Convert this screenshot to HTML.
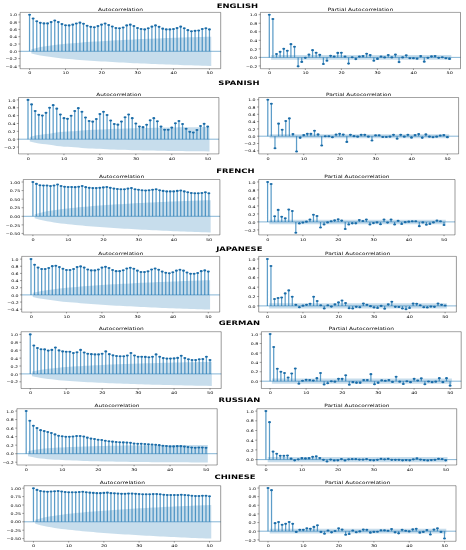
<!DOCTYPE html>
<html lang="en"><head><meta charset="utf-8"><title>ACF / PACF by language</title>
<style>
html,body{margin:0;padding:0;background:#fff}
svg{display:block}
text{font-family:"DejaVu Sans","Liberation Sans",sans-serif;fill:#000}
</style></head>
<body>
<svg width="466" height="550" viewBox="0 0 466 550">
<rect width="466" height="550" fill="#fff"/>
<g>
<g>
<polygon fill="#1f77b4" fill-opacity="0.25" points="31.35,49.19 36.75,47.89 40.34,47.1 43.94,46.5 47.54,45.99 51.14,45.52 54.74,45.05 58.33,44.56 61.93,44.15 65.53,43.82 69.13,43.52 72.73,43.24 76.32,42.95 79.92,42.65 83.52,42.34 87.12,42.06 90.72,41.83 94.31,41.62 97.91,41.42 101.51,41.21 105.11,40.98 108.71,40.74 112.3,40.52 115.9,40.33 119.5,40.17 123.1,40.01 126.7,39.85 130.29,39.65 133.89,39.45 137.49,39.27 141.09,39.12 144.69,38.99 148.28,38.86 151.88,38.72 155.48,38.56 159.08,38.38 162.68,38.23 166.27,38.1 169.87,37.98 173.47,37.86 177.07,37.74 180.67,37.61 184.26,37.46 187.86,37.34 191.46,37.23 195.06,37.13 198.66,37.04 202.25,36.94 205.85,36.82 211.25,36.7 211.25,65.9 205.85,65.78 202.25,65.66 198.66,65.56 195.06,65.47 191.46,65.37 187.86,65.26 184.26,65.14 180.67,64.99 177.07,64.86 173.47,64.74 169.87,64.62 166.27,64.5 162.68,64.37 159.08,64.22 155.48,64.04 151.88,63.88 148.28,63.74 144.69,63.61 141.09,63.48 137.49,63.33 133.89,63.15 130.29,62.95 126.7,62.75 123.1,62.59 119.5,62.43 115.9,62.27 112.3,62.08 108.71,61.86 105.11,61.62 101.51,61.39 97.91,61.18 94.31,60.98 90.72,60.77 87.12,60.54 83.52,60.26 79.92,59.95 76.32,59.65 72.73,59.36 69.13,59.08 65.53,58.78 61.93,58.45 58.33,58.04 54.74,57.55 51.14,57.08 47.54,56.61 43.94,56.1 40.34,55.5 36.75,54.71 31.35,53.41"/>
<path d="M29.55 51.3V14.8M33.15 51.3V18.45M36.75 51.3V21.19M40.34 51.3V22.83M43.94 51.3V23.38M47.54 51.3V23.38M51.14 51.3V22.1M54.74 51.3V20.46M58.33 51.3V22.1M61.93 51.3V24.11M65.53 51.3V25.2M69.13 51.3V25.38M72.73 51.3V24.65M76.32 51.3V23.56M79.92 51.3V22.65M83.52 51.3V23.74M87.12 51.3V25.75M90.72 51.3V26.84M94.31 51.3V27.21M97.91 51.3V26.11M101.51 51.3V24.65M105.11 51.3V23.56M108.71 51.3V25.02M112.3 51.3V26.48M115.9 51.3V27.94M119.5 51.3V28.3M123.1 51.3V27.57M126.7 51.3V25.38M130.29 51.3V24.65M133.89 51.3V25.93M137.49 51.3V27.94M141.09 51.3V29.03M144.69 51.3V29.4M148.28 51.3V28.3M151.88 51.3V26.66M155.48 51.3V25.38M159.08 51.3V26.84M162.68 51.3V28.67M166.27 51.3V29.4M169.87 51.3V29.4M173.47 51.3V29.03M177.07 51.3V28.12M180.67 51.3V26.66M184.26 51.3V28.3M187.86 51.3V30.13M191.46 51.3V31.22M195.06 51.3V30.86M198.66 51.3V30.49M202.25 51.3V29.03M205.85 51.3V28.3M209.45 51.3V29.4" stroke="#1f77b4" stroke-opacity="0.72" stroke-width="1.250" fill="none"/>
<line x1="20.1" x2="220.7" y1="51.3" y2="51.3" stroke="#1f77b4" stroke-width="0.544"/>
<ellipse cx="29.55" cy="14.8" rx="1.50" ry="1.05" fill="#1a6ca8"/>
<ellipse cx="33.15" cy="18.45" rx="1.50" ry="1.05" fill="#1a6ca8"/>
<ellipse cx="36.75" cy="21.19" rx="1.50" ry="1.05" fill="#1a6ca8"/>
<ellipse cx="40.34" cy="22.83" rx="1.50" ry="1.05" fill="#1a6ca8"/>
<ellipse cx="43.94" cy="23.38" rx="1.50" ry="1.05" fill="#1a6ca8"/>
<ellipse cx="47.54" cy="23.38" rx="1.50" ry="1.05" fill="#1a6ca8"/>
<ellipse cx="51.14" cy="22.1" rx="1.50" ry="1.05" fill="#1a6ca8"/>
<ellipse cx="54.74" cy="20.46" rx="1.50" ry="1.05" fill="#1a6ca8"/>
<ellipse cx="58.33" cy="22.1" rx="1.50" ry="1.05" fill="#1a6ca8"/>
<ellipse cx="61.93" cy="24.11" rx="1.50" ry="1.05" fill="#1a6ca8"/>
<ellipse cx="65.53" cy="25.2" rx="1.50" ry="1.05" fill="#1a6ca8"/>
<ellipse cx="69.13" cy="25.38" rx="1.50" ry="1.05" fill="#1a6ca8"/>
<ellipse cx="72.73" cy="24.65" rx="1.50" ry="1.05" fill="#1a6ca8"/>
<ellipse cx="76.32" cy="23.56" rx="1.50" ry="1.05" fill="#1a6ca8"/>
<ellipse cx="79.92" cy="22.65" rx="1.50" ry="1.05" fill="#1a6ca8"/>
<ellipse cx="83.52" cy="23.74" rx="1.50" ry="1.05" fill="#1a6ca8"/>
<ellipse cx="87.12" cy="25.75" rx="1.50" ry="1.05" fill="#1a6ca8"/>
<ellipse cx="90.72" cy="26.84" rx="1.50" ry="1.05" fill="#1a6ca8"/>
<ellipse cx="94.31" cy="27.21" rx="1.50" ry="1.05" fill="#1a6ca8"/>
<ellipse cx="97.91" cy="26.11" rx="1.50" ry="1.05" fill="#1a6ca8"/>
<ellipse cx="101.51" cy="24.65" rx="1.50" ry="1.05" fill="#1a6ca8"/>
<ellipse cx="105.11" cy="23.56" rx="1.50" ry="1.05" fill="#1a6ca8"/>
<ellipse cx="108.71" cy="25.02" rx="1.50" ry="1.05" fill="#1a6ca8"/>
<ellipse cx="112.3" cy="26.48" rx="1.50" ry="1.05" fill="#1a6ca8"/>
<ellipse cx="115.9" cy="27.94" rx="1.50" ry="1.05" fill="#1a6ca8"/>
<ellipse cx="119.5" cy="28.3" rx="1.50" ry="1.05" fill="#1a6ca8"/>
<ellipse cx="123.1" cy="27.57" rx="1.50" ry="1.05" fill="#1a6ca8"/>
<ellipse cx="126.7" cy="25.38" rx="1.50" ry="1.05" fill="#1a6ca8"/>
<ellipse cx="130.29" cy="24.65" rx="1.50" ry="1.05" fill="#1a6ca8"/>
<ellipse cx="133.89" cy="25.93" rx="1.50" ry="1.05" fill="#1a6ca8"/>
<ellipse cx="137.49" cy="27.94" rx="1.50" ry="1.05" fill="#1a6ca8"/>
<ellipse cx="141.09" cy="29.03" rx="1.50" ry="1.05" fill="#1a6ca8"/>
<ellipse cx="144.69" cy="29.4" rx="1.50" ry="1.05" fill="#1a6ca8"/>
<ellipse cx="148.28" cy="28.3" rx="1.50" ry="1.05" fill="#1a6ca8"/>
<ellipse cx="151.88" cy="26.66" rx="1.50" ry="1.05" fill="#1a6ca8"/>
<ellipse cx="155.48" cy="25.38" rx="1.50" ry="1.05" fill="#1a6ca8"/>
<ellipse cx="159.08" cy="26.84" rx="1.50" ry="1.05" fill="#1a6ca8"/>
<ellipse cx="162.68" cy="28.67" rx="1.50" ry="1.05" fill="#1a6ca8"/>
<ellipse cx="166.27" cy="29.4" rx="1.50" ry="1.05" fill="#1a6ca8"/>
<ellipse cx="169.87" cy="29.4" rx="1.50" ry="1.05" fill="#1a6ca8"/>
<ellipse cx="173.47" cy="29.03" rx="1.50" ry="1.05" fill="#1a6ca8"/>
<ellipse cx="177.07" cy="28.12" rx="1.50" ry="1.05" fill="#1a6ca8"/>
<ellipse cx="180.67" cy="26.66" rx="1.50" ry="1.05" fill="#1a6ca8"/>
<ellipse cx="184.26" cy="28.3" rx="1.50" ry="1.05" fill="#1a6ca8"/>
<ellipse cx="187.86" cy="30.13" rx="1.50" ry="1.05" fill="#1a6ca8"/>
<ellipse cx="191.46" cy="31.22" rx="1.50" ry="1.05" fill="#1a6ca8"/>
<ellipse cx="195.06" cy="30.86" rx="1.50" ry="1.05" fill="#1a6ca8"/>
<ellipse cx="198.66" cy="30.49" rx="1.50" ry="1.05" fill="#1a6ca8"/>
<ellipse cx="202.25" cy="29.03" rx="1.50" ry="1.05" fill="#1a6ca8"/>
<ellipse cx="205.85" cy="28.3" rx="1.50" ry="1.05" fill="#1a6ca8"/>
<ellipse cx="209.45" cy="29.4" rx="1.50" ry="1.05" fill="#1a6ca8"/>
<path d="M20.1 12.4V68.7M220.7 12.4V68.7" stroke="#000" stroke-width="0.400" fill="none"/>
<path d="M20.1 12.4H220.7M20.1 68.7H220.7" stroke="#000" stroke-width="0.360" fill="none"/>
<path d="M29.55 68.7v1.27M65.53 68.7v1.27M101.51 68.7v1.27M137.49 68.7v1.27M173.47 68.7v1.27M209.45 68.7v1.27" stroke="#000" stroke-width="0.400" fill="none"/>
<text transform="translate(29.75 74.49) scale(1.3700 1)" font-size="3.625" text-anchor="middle">0</text>
<text transform="translate(65.73 74.49) scale(1.3700 1)" font-size="3.625" text-anchor="middle">10</text>
<text transform="translate(101.71 74.49) scale(1.3700 1)" font-size="3.625" text-anchor="middle">20</text>
<text transform="translate(137.69 74.49) scale(1.3700 1)" font-size="3.625" text-anchor="middle">30</text>
<text transform="translate(173.67 74.49) scale(1.3700 1)" font-size="3.625" text-anchor="middle">40</text>
<text transform="translate(209.65 74.49) scale(1.3700 1)" font-size="3.625" text-anchor="middle">50</text>
<path d="M20.1 65.9h-1.74M20.1 58.6h-1.74M20.1 51.3h-1.74M20.1 44h-1.74M20.1 36.7h-1.74M20.1 29.4h-1.74M20.1 22.1h-1.74M20.1 14.8h-1.74" stroke="#000" stroke-width="0.360" fill="none"/>
<text transform="translate(17.02 67.57) scale(1.3000 1)" font-size="3.625" text-anchor="end">−0.4</text>
<text transform="translate(17.02 60.27) scale(1.3000 1)" font-size="3.625" text-anchor="end">−0.2</text>
<text transform="translate(17.02 52.97) scale(1.3000 1)" font-size="3.625" text-anchor="end">0.0</text>
<text transform="translate(17.02 45.67) scale(1.3000 1)" font-size="3.625" text-anchor="end">0.2</text>
<text transform="translate(17.02 38.37) scale(1.3000 1)" font-size="3.625" text-anchor="end">0.4</text>
<text transform="translate(17.02 31.07) scale(1.3000 1)" font-size="3.625" text-anchor="end">0.6</text>
<text transform="translate(17.02 23.77) scale(1.3000 1)" font-size="3.625" text-anchor="end">0.8</text>
<text transform="translate(17.02 16.47) scale(1.3000 1)" font-size="3.625" text-anchor="end">1.0</text>
<text transform="translate(120.4 10.72) scale(1.3500 1)" font-size="4.350" text-anchor="middle">Autocorrelation</text>
</g>
<g>
<polygon fill="#1f77b4" fill-opacity="0.25" points="271.1,55.01 276.51,55.01 280.11,55.01 283.72,55.01 287.32,55.01 290.92,55.01 294.53,55.01 298.13,55.01 301.74,55.01 305.34,55.01 308.94,55.01 312.55,55.01 316.15,55.01 319.76,55.01 323.36,55.01 326.96,55.01 330.57,55.01 334.17,55.01 337.78,55.01 341.38,55.01 344.98,55.01 348.59,55.01 352.19,55.01 355.8,55.01 359.4,55.01 363,55.01 366.61,55.01 370.21,55.01 373.82,55.01 377.42,55.01 381.02,55.01 384.63,55.01 388.23,55.01 391.84,55.01 395.44,55.01 399.04,55.01 402.65,55.01 406.25,55.01 409.86,55.01 413.46,55.01 417.06,55.01 420.67,55.01 424.27,55.01 427.88,55.01 431.48,55.01 435.08,55.01 438.69,55.01 442.29,55.01 445.9,55.01 451.3,55.01 451.3,59.79 445.9,59.79 442.29,59.79 438.69,59.79 435.08,59.79 431.48,59.79 427.88,59.79 424.27,59.79 420.67,59.79 417.06,59.79 413.46,59.79 409.86,59.79 406.25,59.79 402.65,59.79 399.04,59.79 395.44,59.79 391.84,59.79 388.23,59.79 384.63,59.79 381.02,59.79 377.42,59.79 373.82,59.79 370.21,59.79 366.61,59.79 363,59.79 359.4,59.79 355.8,59.79 352.19,59.79 348.59,59.79 344.98,59.79 341.38,59.79 337.78,59.79 334.17,59.79 330.57,59.79 326.96,59.79 323.36,59.79 319.76,59.79 316.15,59.79 312.55,59.79 308.94,59.79 305.34,59.79 301.74,59.79 298.13,59.79 294.53,59.79 290.92,59.79 287.32,59.79 283.72,59.79 280.11,59.79 276.51,59.79 271.1,59.79"/>
<path d="M269.3 57.4V14.7M272.9 57.4V18.97M276.51 57.4V53.98M280.11 57.4V51.85M283.72 57.4V48.86M287.32 57.4V50.78M290.92 57.4V44.16M294.53 57.4V46.72M298.13 57.4V66.37M301.74 57.4V61.88M305.34 57.4V57.83M308.94 57.4V54.62M312.55 57.4V50.14M316.15 57.4V52.7M319.76 57.4V54.84M323.36 57.4V64.02M326.96 57.4V60.82M330.57 57.4V55.69M334.17 57.4V56.55M337.78 57.4V52.92M341.38 57.4V52.7M344.98 57.4V56.55M348.59 57.4V63.59M352.19 57.4V57.19M355.8 57.4V59.11M359.4 57.4V56.55M363 57.4V56.12M366.61 57.4V53.77M370.21 57.4V55.05M373.82 57.4V60.82M377.42 57.4V58.89M381.02 57.4V56.55M384.63 57.4V57.4M388.23 57.4V55.05M391.84 57.4V57.4M395.44 57.4V54.62M399.04 57.4V62.1M402.65 57.4V57.4M406.25 57.4V55.27M409.86 57.4V58.25M413.46 57.4V58.25M417.06 57.4V58.68M420.67 57.4V56.12M424.27 57.4V61.67M427.88 57.4V57.83M431.48 57.4V56.33M435.08 57.4V56.12M438.69 57.4V57.83M442.29 57.4V57.19M445.9 57.4V58.25M449.5 57.4V58.89" stroke="#1f77b4" stroke-opacity="0.72" stroke-width="1.250" fill="none"/>
<line x1="260.4" x2="460.5" y1="57.4" y2="57.4" stroke="#1f77b4" stroke-width="0.544"/>
<ellipse cx="269.3" cy="14.7" rx="1.50" ry="1.05" fill="#1a6ca8"/>
<ellipse cx="272.9" cy="18.97" rx="1.50" ry="1.05" fill="#1a6ca8"/>
<ellipse cx="276.51" cy="53.98" rx="1.50" ry="1.05" fill="#1a6ca8"/>
<ellipse cx="280.11" cy="51.85" rx="1.50" ry="1.05" fill="#1a6ca8"/>
<ellipse cx="283.72" cy="48.86" rx="1.50" ry="1.05" fill="#1a6ca8"/>
<ellipse cx="287.32" cy="50.78" rx="1.50" ry="1.05" fill="#1a6ca8"/>
<ellipse cx="290.92" cy="44.16" rx="1.50" ry="1.05" fill="#1a6ca8"/>
<ellipse cx="294.53" cy="46.72" rx="1.50" ry="1.05" fill="#1a6ca8"/>
<ellipse cx="298.13" cy="66.37" rx="1.50" ry="1.05" fill="#1a6ca8"/>
<ellipse cx="301.74" cy="61.88" rx="1.50" ry="1.05" fill="#1a6ca8"/>
<ellipse cx="305.34" cy="57.83" rx="1.50" ry="1.05" fill="#1a6ca8"/>
<ellipse cx="308.94" cy="54.62" rx="1.50" ry="1.05" fill="#1a6ca8"/>
<ellipse cx="312.55" cy="50.14" rx="1.50" ry="1.05" fill="#1a6ca8"/>
<ellipse cx="316.15" cy="52.7" rx="1.50" ry="1.05" fill="#1a6ca8"/>
<ellipse cx="319.76" cy="54.84" rx="1.50" ry="1.05" fill="#1a6ca8"/>
<ellipse cx="323.36" cy="64.02" rx="1.50" ry="1.05" fill="#1a6ca8"/>
<ellipse cx="326.96" cy="60.82" rx="1.50" ry="1.05" fill="#1a6ca8"/>
<ellipse cx="330.57" cy="55.69" rx="1.50" ry="1.05" fill="#1a6ca8"/>
<ellipse cx="334.17" cy="56.55" rx="1.50" ry="1.05" fill="#1a6ca8"/>
<ellipse cx="337.78" cy="52.92" rx="1.50" ry="1.05" fill="#1a6ca8"/>
<ellipse cx="341.38" cy="52.7" rx="1.50" ry="1.05" fill="#1a6ca8"/>
<ellipse cx="344.98" cy="56.55" rx="1.50" ry="1.05" fill="#1a6ca8"/>
<ellipse cx="348.59" cy="63.59" rx="1.50" ry="1.05" fill="#1a6ca8"/>
<ellipse cx="352.19" cy="57.19" rx="1.50" ry="1.05" fill="#1a6ca8"/>
<ellipse cx="355.8" cy="59.11" rx="1.50" ry="1.05" fill="#1a6ca8"/>
<ellipse cx="359.4" cy="56.55" rx="1.50" ry="1.05" fill="#1a6ca8"/>
<ellipse cx="363" cy="56.12" rx="1.50" ry="1.05" fill="#1a6ca8"/>
<ellipse cx="366.61" cy="53.77" rx="1.50" ry="1.05" fill="#1a6ca8"/>
<ellipse cx="370.21" cy="55.05" rx="1.50" ry="1.05" fill="#1a6ca8"/>
<ellipse cx="373.82" cy="60.82" rx="1.50" ry="1.05" fill="#1a6ca8"/>
<ellipse cx="377.42" cy="58.89" rx="1.50" ry="1.05" fill="#1a6ca8"/>
<ellipse cx="381.02" cy="56.55" rx="1.50" ry="1.05" fill="#1a6ca8"/>
<ellipse cx="384.63" cy="57.4" rx="1.50" ry="1.05" fill="#1a6ca8"/>
<ellipse cx="388.23" cy="55.05" rx="1.50" ry="1.05" fill="#1a6ca8"/>
<ellipse cx="391.84" cy="57.4" rx="1.50" ry="1.05" fill="#1a6ca8"/>
<ellipse cx="395.44" cy="54.62" rx="1.50" ry="1.05" fill="#1a6ca8"/>
<ellipse cx="399.04" cy="62.1" rx="1.50" ry="1.05" fill="#1a6ca8"/>
<ellipse cx="402.65" cy="57.4" rx="1.50" ry="1.05" fill="#1a6ca8"/>
<ellipse cx="406.25" cy="55.27" rx="1.50" ry="1.05" fill="#1a6ca8"/>
<ellipse cx="409.86" cy="58.25" rx="1.50" ry="1.05" fill="#1a6ca8"/>
<ellipse cx="413.46" cy="58.25" rx="1.50" ry="1.05" fill="#1a6ca8"/>
<ellipse cx="417.06" cy="58.68" rx="1.50" ry="1.05" fill="#1a6ca8"/>
<ellipse cx="420.67" cy="56.12" rx="1.50" ry="1.05" fill="#1a6ca8"/>
<ellipse cx="424.27" cy="61.67" rx="1.50" ry="1.05" fill="#1a6ca8"/>
<ellipse cx="427.88" cy="57.83" rx="1.50" ry="1.05" fill="#1a6ca8"/>
<ellipse cx="431.48" cy="56.33" rx="1.50" ry="1.05" fill="#1a6ca8"/>
<ellipse cx="435.08" cy="56.12" rx="1.50" ry="1.05" fill="#1a6ca8"/>
<ellipse cx="438.69" cy="57.83" rx="1.50" ry="1.05" fill="#1a6ca8"/>
<ellipse cx="442.29" cy="57.19" rx="1.50" ry="1.05" fill="#1a6ca8"/>
<ellipse cx="445.9" cy="58.25" rx="1.50" ry="1.05" fill="#1a6ca8"/>
<ellipse cx="449.5" cy="58.89" rx="1.50" ry="1.05" fill="#1a6ca8"/>
<path d="M260.4 12.4V68.7M460.5 12.4V68.7" stroke="#000" stroke-width="0.400" fill="none"/>
<path d="M260.4 12.4H460.5M260.4 68.7H460.5" stroke="#000" stroke-width="0.360" fill="none"/>
<path d="M269.3 68.7v1.27M305.34 68.7v1.27M341.38 68.7v1.27M377.42 68.7v1.27M413.46 68.7v1.27M449.5 68.7v1.27" stroke="#000" stroke-width="0.400" fill="none"/>
<text transform="translate(269.5 74.49) scale(1.3700 1)" font-size="3.625" text-anchor="middle">0</text>
<text transform="translate(305.54 74.49) scale(1.3700 1)" font-size="3.625" text-anchor="middle">10</text>
<text transform="translate(341.58 74.49) scale(1.3700 1)" font-size="3.625" text-anchor="middle">20</text>
<text transform="translate(377.62 74.49) scale(1.3700 1)" font-size="3.625" text-anchor="middle">30</text>
<text transform="translate(413.66 74.49) scale(1.3700 1)" font-size="3.625" text-anchor="middle">40</text>
<text transform="translate(449.7 74.49) scale(1.3700 1)" font-size="3.625" text-anchor="middle">50</text>
<path d="M260.4 65.94h-1.74M260.4 57.4h-1.74M260.4 48.86h-1.74M260.4 40.32h-1.74M260.4 31.78h-1.74M260.4 23.24h-1.74M260.4 14.7h-1.74" stroke="#000" stroke-width="0.360" fill="none"/>
<text transform="translate(257.32 67.61) scale(1.3000 1)" font-size="3.625" text-anchor="end">−0.2</text>
<text transform="translate(257.32 59.07) scale(1.3000 1)" font-size="3.625" text-anchor="end">0.0</text>
<text transform="translate(257.32 50.53) scale(1.3000 1)" font-size="3.625" text-anchor="end">0.2</text>
<text transform="translate(257.32 41.99) scale(1.3000 1)" font-size="3.625" text-anchor="end">0.4</text>
<text transform="translate(257.32 33.45) scale(1.3000 1)" font-size="3.625" text-anchor="end">0.6</text>
<text transform="translate(257.32 24.91) scale(1.3000 1)" font-size="3.625" text-anchor="end">0.8</text>
<text transform="translate(257.32 16.37) scale(1.3000 1)" font-size="3.625" text-anchor="end">1.0</text>
<text transform="translate(360.45 10.72) scale(1.3500 1)" font-size="4.350" text-anchor="middle">Partial Autocorrelation</text>
</g>
<text transform="translate(237.4 8.2) scale(1.3716 1)" font-size="6.150" text-anchor="middle" font-weight="bold">ENGLISH</text>
<g>
<polygon fill="#1f77b4" fill-opacity="0.25" points="29.8,136.93 35.19,135.56 38.78,134.89 42.38,134.46 45.97,134.08 49.56,133.65 53.16,133.08 56.75,132.48 60.35,132.03 63.94,131.75 67.53,131.55 71.13,131.37 74.72,131.14 78.32,130.82 81.91,130.45 85.5,130.16 89.1,129.99 92.69,129.87 96.29,129.76 99.88,129.62 103.47,129.4 107.07,129.14 110.66,128.95 114.26,128.84 117.85,128.77 121.44,128.7 125.04,128.6 128.63,128.45 132.23,128.26 135.82,128.13 139.41,128.05 143.01,128.01 146.6,127.96 150.2,127.9 153.79,127.8 157.38,127.67 160.98,127.57 164.57,127.53 168.17,127.5 171.76,127.48 175.35,127.44 178.95,127.37 182.54,127.28 186.14,127.21 189.73,127.18 193.32,127.17 196.92,127.15 200.51,127.13 204.11,127.08 209.5,127.02 209.5,151.38 204.11,151.32 200.51,151.27 196.92,151.25 193.32,151.23 189.73,151.22 186.14,151.19 182.54,151.12 178.95,151.03 175.35,150.96 171.76,150.92 168.17,150.9 164.57,150.87 160.98,150.83 157.38,150.73 153.79,150.6 150.2,150.5 146.6,150.44 143.01,150.39 139.41,150.35 135.82,150.27 132.23,150.14 128.63,149.95 125.04,149.8 121.44,149.7 117.85,149.63 114.26,149.56 110.66,149.45 107.07,149.26 103.47,149 99.88,148.78 96.29,148.64 92.69,148.53 89.1,148.41 85.5,148.24 81.91,147.95 78.32,147.58 74.72,147.26 71.13,147.03 67.53,146.85 63.94,146.65 60.35,146.37 56.75,145.92 53.16,145.32 49.56,144.75 45.97,144.32 42.38,143.94 38.78,143.51 35.19,142.84 29.8,141.47"/>
<path d="M28 139.2V99.9M31.59 139.2V104.42M35.19 139.2V111.02M38.78 139.2V114.83M42.38 139.2V115.62M45.97 139.2V112.87M49.56 139.2V107.76M53.16 139.2V105.13M56.75 139.2V108.66M60.35 139.2V114.44M63.94 139.2V118.14M67.53 139.2V118.84M71.13 139.2V115.78M74.72 139.2V111.02M78.32 139.2V108.15M81.91 139.2V111.69M85.5 139.2V117.43M89.1 139.2V120.96M92.69 139.2V121.67M96.29 139.2V119.08M99.88 139.2V114.09M103.47 139.2V111.69M107.07 139.2V115.07M110.66 139.2V120.49M114.26 139.2V124.03M117.85 139.2V124.66M121.44 139.2V121.59M125.04 139.2V117.19M128.63 139.2V114.56M132.23 139.2V118.14M135.82 139.2V123.56M139.41 139.2V126.62M143.01 139.2V127.13M146.6 139.2V124.78M150.2 139.2V120.34M153.79 139.2V118.14M157.38 139.2V121.2M160.98 139.2V126.62M164.57 139.2V129.77M168.17 139.2V129.77M171.76 139.2V127.61M175.35 139.2V123.32M178.95 139.2V120.96M182.54 139.2V124.03M186.14 139.2V128.79M189.73 139.2V131.85M193.32 139.2V132.56M196.92 139.2V129.96M200.51 139.2V125.96M204.11 139.2V123.87M207.7 139.2V126.62" stroke="#1f77b4" stroke-opacity="0.72" stroke-width="1.250" fill="none"/>
<line x1="18.5" x2="218.9" y1="139.2" y2="139.2" stroke="#1f77b4" stroke-width="0.544"/>
<ellipse cx="28" cy="99.9" rx="1.50" ry="1.05" fill="#1a6ca8"/>
<ellipse cx="31.59" cy="104.42" rx="1.50" ry="1.05" fill="#1a6ca8"/>
<ellipse cx="35.19" cy="111.02" rx="1.50" ry="1.05" fill="#1a6ca8"/>
<ellipse cx="38.78" cy="114.83" rx="1.50" ry="1.05" fill="#1a6ca8"/>
<ellipse cx="42.38" cy="115.62" rx="1.50" ry="1.05" fill="#1a6ca8"/>
<ellipse cx="45.97" cy="112.87" rx="1.50" ry="1.05" fill="#1a6ca8"/>
<ellipse cx="49.56" cy="107.76" rx="1.50" ry="1.05" fill="#1a6ca8"/>
<ellipse cx="53.16" cy="105.13" rx="1.50" ry="1.05" fill="#1a6ca8"/>
<ellipse cx="56.75" cy="108.66" rx="1.50" ry="1.05" fill="#1a6ca8"/>
<ellipse cx="60.35" cy="114.44" rx="1.50" ry="1.05" fill="#1a6ca8"/>
<ellipse cx="63.94" cy="118.14" rx="1.50" ry="1.05" fill="#1a6ca8"/>
<ellipse cx="67.53" cy="118.84" rx="1.50" ry="1.05" fill="#1a6ca8"/>
<ellipse cx="71.13" cy="115.78" rx="1.50" ry="1.05" fill="#1a6ca8"/>
<ellipse cx="74.72" cy="111.02" rx="1.50" ry="1.05" fill="#1a6ca8"/>
<ellipse cx="78.32" cy="108.15" rx="1.50" ry="1.05" fill="#1a6ca8"/>
<ellipse cx="81.91" cy="111.69" rx="1.50" ry="1.05" fill="#1a6ca8"/>
<ellipse cx="85.5" cy="117.43" rx="1.50" ry="1.05" fill="#1a6ca8"/>
<ellipse cx="89.1" cy="120.96" rx="1.50" ry="1.05" fill="#1a6ca8"/>
<ellipse cx="92.69" cy="121.67" rx="1.50" ry="1.05" fill="#1a6ca8"/>
<ellipse cx="96.29" cy="119.08" rx="1.50" ry="1.05" fill="#1a6ca8"/>
<ellipse cx="99.88" cy="114.09" rx="1.50" ry="1.05" fill="#1a6ca8"/>
<ellipse cx="103.47" cy="111.69" rx="1.50" ry="1.05" fill="#1a6ca8"/>
<ellipse cx="107.07" cy="115.07" rx="1.50" ry="1.05" fill="#1a6ca8"/>
<ellipse cx="110.66" cy="120.49" rx="1.50" ry="1.05" fill="#1a6ca8"/>
<ellipse cx="114.26" cy="124.03" rx="1.50" ry="1.05" fill="#1a6ca8"/>
<ellipse cx="117.85" cy="124.66" rx="1.50" ry="1.05" fill="#1a6ca8"/>
<ellipse cx="121.44" cy="121.59" rx="1.50" ry="1.05" fill="#1a6ca8"/>
<ellipse cx="125.04" cy="117.19" rx="1.50" ry="1.05" fill="#1a6ca8"/>
<ellipse cx="128.63" cy="114.56" rx="1.50" ry="1.05" fill="#1a6ca8"/>
<ellipse cx="132.23" cy="118.14" rx="1.50" ry="1.05" fill="#1a6ca8"/>
<ellipse cx="135.82" cy="123.56" rx="1.50" ry="1.05" fill="#1a6ca8"/>
<ellipse cx="139.41" cy="126.62" rx="1.50" ry="1.05" fill="#1a6ca8"/>
<ellipse cx="143.01" cy="127.13" rx="1.50" ry="1.05" fill="#1a6ca8"/>
<ellipse cx="146.6" cy="124.78" rx="1.50" ry="1.05" fill="#1a6ca8"/>
<ellipse cx="150.2" cy="120.34" rx="1.50" ry="1.05" fill="#1a6ca8"/>
<ellipse cx="153.79" cy="118.14" rx="1.50" ry="1.05" fill="#1a6ca8"/>
<ellipse cx="157.38" cy="121.2" rx="1.50" ry="1.05" fill="#1a6ca8"/>
<ellipse cx="160.98" cy="126.62" rx="1.50" ry="1.05" fill="#1a6ca8"/>
<ellipse cx="164.57" cy="129.77" rx="1.50" ry="1.05" fill="#1a6ca8"/>
<ellipse cx="168.17" cy="129.77" rx="1.50" ry="1.05" fill="#1a6ca8"/>
<ellipse cx="171.76" cy="127.61" rx="1.50" ry="1.05" fill="#1a6ca8"/>
<ellipse cx="175.35" cy="123.32" rx="1.50" ry="1.05" fill="#1a6ca8"/>
<ellipse cx="178.95" cy="120.96" rx="1.50" ry="1.05" fill="#1a6ca8"/>
<ellipse cx="182.54" cy="124.03" rx="1.50" ry="1.05" fill="#1a6ca8"/>
<ellipse cx="186.14" cy="128.79" rx="1.50" ry="1.05" fill="#1a6ca8"/>
<ellipse cx="189.73" cy="131.85" rx="1.50" ry="1.05" fill="#1a6ca8"/>
<ellipse cx="193.32" cy="132.56" rx="1.50" ry="1.05" fill="#1a6ca8"/>
<ellipse cx="196.92" cy="129.96" rx="1.50" ry="1.05" fill="#1a6ca8"/>
<ellipse cx="200.51" cy="125.96" rx="1.50" ry="1.05" fill="#1a6ca8"/>
<ellipse cx="204.11" cy="123.87" rx="1.50" ry="1.05" fill="#1a6ca8"/>
<ellipse cx="207.7" cy="126.62" rx="1.50" ry="1.05" fill="#1a6ca8"/>
<path d="M18.5 97.5V153.9M218.9 97.5V153.9" stroke="#000" stroke-width="0.400" fill="none"/>
<path d="M18.5 97.5H218.9M18.5 153.9H218.9" stroke="#000" stroke-width="0.360" fill="none"/>
<path d="M28 153.9v1.27M63.94 153.9v1.27M99.88 153.9v1.27M135.82 153.9v1.27M171.76 153.9v1.27M207.7 153.9v1.27" stroke="#000" stroke-width="0.400" fill="none"/>
<text transform="translate(28.2 159.69) scale(1.3700 1)" font-size="3.625" text-anchor="middle">0</text>
<text transform="translate(64.14 159.69) scale(1.3700 1)" font-size="3.625" text-anchor="middle">10</text>
<text transform="translate(100.08 159.69) scale(1.3700 1)" font-size="3.625" text-anchor="middle">20</text>
<text transform="translate(136.02 159.69) scale(1.3700 1)" font-size="3.625" text-anchor="middle">30</text>
<text transform="translate(171.96 159.69) scale(1.3700 1)" font-size="3.625" text-anchor="middle">40</text>
<text transform="translate(207.9 159.69) scale(1.3700 1)" font-size="3.625" text-anchor="middle">50</text>
<path d="M18.5 147.06h-1.74M18.5 139.2h-1.74M18.5 131.34h-1.74M18.5 123.48h-1.74M18.5 115.62h-1.74M18.5 107.76h-1.74M18.5 99.9h-1.74" stroke="#000" stroke-width="0.360" fill="none"/>
<text transform="translate(15.42 148.73) scale(1.3000 1)" font-size="3.625" text-anchor="end">−0.2</text>
<text transform="translate(15.42 140.87) scale(1.3000 1)" font-size="3.625" text-anchor="end">0.0</text>
<text transform="translate(15.42 133.01) scale(1.3000 1)" font-size="3.625" text-anchor="end">0.2</text>
<text transform="translate(15.42 125.15) scale(1.3000 1)" font-size="3.625" text-anchor="end">0.4</text>
<text transform="translate(15.42 117.29) scale(1.3000 1)" font-size="3.625" text-anchor="end">0.6</text>
<text transform="translate(15.42 109.43) scale(1.3000 1)" font-size="3.625" text-anchor="end">0.8</text>
<text transform="translate(15.42 101.57) scale(1.3000 1)" font-size="3.625" text-anchor="end">1.0</text>
<text transform="translate(118.7 95.83) scale(1.3500 1)" font-size="4.350" text-anchor="middle">Autocorrelation</text>
</g>
<g>
<polygon fill="#1f77b4" fill-opacity="0.25" points="269.6,134.16 274.98,134.16 278.58,134.16 282.17,134.16 285.76,134.16 289.35,134.16 292.94,134.16 296.54,134.16 300.13,134.16 303.72,134.16 307.31,134.16 310.9,134.16 314.5,134.16 318.09,134.16 321.68,134.16 325.27,134.16 328.86,134.16 332.46,134.16 336.05,134.16 339.64,134.16 343.23,134.16 346.82,134.16 350.42,134.16 354.01,134.16 357.6,134.16 361.19,134.16 364.78,134.16 368.38,134.16 371.97,134.16 375.56,134.16 379.15,134.16 382.74,134.16 386.34,134.16 389.93,134.16 393.52,134.16 397.11,134.16 400.7,134.16 404.3,134.16 407.89,134.16 411.48,134.16 415.07,134.16 418.66,134.16 422.26,134.16 425.85,134.16 429.44,134.16 433.03,134.16 436.62,134.16 440.22,134.16 443.81,134.16 449.2,134.16 449.2,138.24 443.81,138.24 440.22,138.24 436.62,138.24 433.03,138.24 429.44,138.24 425.85,138.24 422.26,138.24 418.66,138.24 415.07,138.24 411.48,138.24 407.89,138.24 404.3,138.24 400.7,138.24 397.11,138.24 393.52,138.24 389.93,138.24 386.34,138.24 382.74,138.24 379.15,138.24 375.56,138.24 371.97,138.24 368.38,138.24 364.78,138.24 361.19,138.24 357.6,138.24 354.01,138.24 350.42,138.24 346.82,138.24 343.23,138.24 339.64,138.24 336.05,138.24 332.46,138.24 328.86,138.24 325.27,138.24 321.68,138.24 318.09,138.24 314.5,138.24 310.9,138.24 307.31,138.24 303.72,138.24 300.13,138.24 296.54,138.24 292.94,138.24 289.35,138.24 285.76,138.24 282.17,138.24 278.58,138.24 274.98,138.24 269.6,138.24"/>
<path d="M267.8 136.2V99.7M271.39 136.2V103.72M274.98 136.2V148.24M278.58 136.2V123.64M282.17 136.2V129.81M285.76 136.2V121.02M289.35 136.2V118.42M292.94 136.2V134.08M296.54 136.2V151.53M300.13 136.2V137.84M303.72 136.2V135.1M307.31 136.2V133.83M310.9 136.2V133.83M314.5 136.2V130.72M318.09 136.2V134.38M321.68 136.2V145.43M325.27 136.2V136.2M328.86 136.2V136.2M332.46 136.2V137.29M336.05 136.2V134.56M339.64 136.2V133.83M343.23 136.2V134.56M346.82 136.2V141.89M350.42 136.2V134.74M354.01 136.2V136.13M357.6 136.2V136.67M361.19 136.2V134.74M364.78 136.2V134.74M368.38 136.2V136.67M371.97 136.2V140.47M375.56 136.2V135.25M379.15 136.2V135.25M382.74 136.2V136.93M386.34 136.2V136.93M389.93 136.2V136.67M393.52 136.2V134.74M397.11 136.2V138.75M400.7 136.2V134.74M404.3 136.2V136.67M407.89 136.2V134.74M411.48 136.2V137.66M415.07 136.2V135.1M418.66 136.2V134.08M422.26 136.2V137.84M425.85 136.2V134.38M429.44 136.2V136.67M433.03 136.2V137.29M436.62 136.2V136.67M440.22 136.2V135.47M443.81 136.2V135.1M447.4 136.2V137.15" stroke="#1f77b4" stroke-opacity="0.72" stroke-width="1.250" fill="none"/>
<line x1="258.7" x2="458.6" y1="136.2" y2="136.2" stroke="#1f77b4" stroke-width="0.544"/>
<ellipse cx="267.8" cy="99.7" rx="1.50" ry="1.05" fill="#1a6ca8"/>
<ellipse cx="271.39" cy="103.72" rx="1.50" ry="1.05" fill="#1a6ca8"/>
<ellipse cx="274.98" cy="148.24" rx="1.50" ry="1.05" fill="#1a6ca8"/>
<ellipse cx="278.58" cy="123.64" rx="1.50" ry="1.05" fill="#1a6ca8"/>
<ellipse cx="282.17" cy="129.81" rx="1.50" ry="1.05" fill="#1a6ca8"/>
<ellipse cx="285.76" cy="121.02" rx="1.50" ry="1.05" fill="#1a6ca8"/>
<ellipse cx="289.35" cy="118.42" rx="1.50" ry="1.05" fill="#1a6ca8"/>
<ellipse cx="292.94" cy="134.08" rx="1.50" ry="1.05" fill="#1a6ca8"/>
<ellipse cx="296.54" cy="151.53" rx="1.50" ry="1.05" fill="#1a6ca8"/>
<ellipse cx="300.13" cy="137.84" rx="1.50" ry="1.05" fill="#1a6ca8"/>
<ellipse cx="303.72" cy="135.1" rx="1.50" ry="1.05" fill="#1a6ca8"/>
<ellipse cx="307.31" cy="133.83" rx="1.50" ry="1.05" fill="#1a6ca8"/>
<ellipse cx="310.9" cy="133.83" rx="1.50" ry="1.05" fill="#1a6ca8"/>
<ellipse cx="314.5" cy="130.72" rx="1.50" ry="1.05" fill="#1a6ca8"/>
<ellipse cx="318.09" cy="134.38" rx="1.50" ry="1.05" fill="#1a6ca8"/>
<ellipse cx="321.68" cy="145.43" rx="1.50" ry="1.05" fill="#1a6ca8"/>
<ellipse cx="325.27" cy="136.2" rx="1.50" ry="1.05" fill="#1a6ca8"/>
<ellipse cx="328.86" cy="136.2" rx="1.50" ry="1.05" fill="#1a6ca8"/>
<ellipse cx="332.46" cy="137.29" rx="1.50" ry="1.05" fill="#1a6ca8"/>
<ellipse cx="336.05" cy="134.56" rx="1.50" ry="1.05" fill="#1a6ca8"/>
<ellipse cx="339.64" cy="133.83" rx="1.50" ry="1.05" fill="#1a6ca8"/>
<ellipse cx="343.23" cy="134.56" rx="1.50" ry="1.05" fill="#1a6ca8"/>
<ellipse cx="346.82" cy="141.89" rx="1.50" ry="1.05" fill="#1a6ca8"/>
<ellipse cx="350.42" cy="134.74" rx="1.50" ry="1.05" fill="#1a6ca8"/>
<ellipse cx="354.01" cy="136.13" rx="1.50" ry="1.05" fill="#1a6ca8"/>
<ellipse cx="357.6" cy="136.67" rx="1.50" ry="1.05" fill="#1a6ca8"/>
<ellipse cx="361.19" cy="134.74" rx="1.50" ry="1.05" fill="#1a6ca8"/>
<ellipse cx="364.78" cy="134.74" rx="1.50" ry="1.05" fill="#1a6ca8"/>
<ellipse cx="368.38" cy="136.67" rx="1.50" ry="1.05" fill="#1a6ca8"/>
<ellipse cx="371.97" cy="140.47" rx="1.50" ry="1.05" fill="#1a6ca8"/>
<ellipse cx="375.56" cy="135.25" rx="1.50" ry="1.05" fill="#1a6ca8"/>
<ellipse cx="379.15" cy="135.25" rx="1.50" ry="1.05" fill="#1a6ca8"/>
<ellipse cx="382.74" cy="136.93" rx="1.50" ry="1.05" fill="#1a6ca8"/>
<ellipse cx="386.34" cy="136.93" rx="1.50" ry="1.05" fill="#1a6ca8"/>
<ellipse cx="389.93" cy="136.67" rx="1.50" ry="1.05" fill="#1a6ca8"/>
<ellipse cx="393.52" cy="134.74" rx="1.50" ry="1.05" fill="#1a6ca8"/>
<ellipse cx="397.11" cy="138.75" rx="1.50" ry="1.05" fill="#1a6ca8"/>
<ellipse cx="400.7" cy="134.74" rx="1.50" ry="1.05" fill="#1a6ca8"/>
<ellipse cx="404.3" cy="136.67" rx="1.50" ry="1.05" fill="#1a6ca8"/>
<ellipse cx="407.89" cy="134.74" rx="1.50" ry="1.05" fill="#1a6ca8"/>
<ellipse cx="411.48" cy="137.66" rx="1.50" ry="1.05" fill="#1a6ca8"/>
<ellipse cx="415.07" cy="135.1" rx="1.50" ry="1.05" fill="#1a6ca8"/>
<ellipse cx="418.66" cy="134.08" rx="1.50" ry="1.05" fill="#1a6ca8"/>
<ellipse cx="422.26" cy="137.84" rx="1.50" ry="1.05" fill="#1a6ca8"/>
<ellipse cx="425.85" cy="134.38" rx="1.50" ry="1.05" fill="#1a6ca8"/>
<ellipse cx="429.44" cy="136.67" rx="1.50" ry="1.05" fill="#1a6ca8"/>
<ellipse cx="433.03" cy="137.29" rx="1.50" ry="1.05" fill="#1a6ca8"/>
<ellipse cx="436.62" cy="136.67" rx="1.50" ry="1.05" fill="#1a6ca8"/>
<ellipse cx="440.22" cy="135.47" rx="1.50" ry="1.05" fill="#1a6ca8"/>
<ellipse cx="443.81" cy="135.1" rx="1.50" ry="1.05" fill="#1a6ca8"/>
<ellipse cx="447.4" cy="137.15" rx="1.50" ry="1.05" fill="#1a6ca8"/>
<path d="M258.7 97.5V153.9M458.6 97.5V153.9" stroke="#000" stroke-width="0.400" fill="none"/>
<path d="M258.7 97.5H458.6M258.7 153.9H458.6" stroke="#000" stroke-width="0.360" fill="none"/>
<path d="M267.8 153.9v1.27M303.72 153.9v1.27M339.64 153.9v1.27M375.56 153.9v1.27M411.48 153.9v1.27M447.4 153.9v1.27" stroke="#000" stroke-width="0.400" fill="none"/>
<text transform="translate(268 159.69) scale(1.3700 1)" font-size="3.625" text-anchor="middle">0</text>
<text transform="translate(303.92 159.69) scale(1.3700 1)" font-size="3.625" text-anchor="middle">10</text>
<text transform="translate(339.84 159.69) scale(1.3700 1)" font-size="3.625" text-anchor="middle">20</text>
<text transform="translate(375.76 159.69) scale(1.3700 1)" font-size="3.625" text-anchor="middle">30</text>
<text transform="translate(411.68 159.69) scale(1.3700 1)" font-size="3.625" text-anchor="middle">40</text>
<text transform="translate(447.6 159.69) scale(1.3700 1)" font-size="3.625" text-anchor="middle">50</text>
<path d="M258.7 150.8h-1.74M258.7 143.5h-1.74M258.7 136.2h-1.74M258.7 128.9h-1.74M258.7 121.6h-1.74M258.7 114.3h-1.74M258.7 107h-1.74M258.7 99.7h-1.74" stroke="#000" stroke-width="0.360" fill="none"/>
<text transform="translate(255.62 152.47) scale(1.3000 1)" font-size="3.625" text-anchor="end">−0.4</text>
<text transform="translate(255.62 145.17) scale(1.3000 1)" font-size="3.625" text-anchor="end">−0.2</text>
<text transform="translate(255.62 137.87) scale(1.3000 1)" font-size="3.625" text-anchor="end">0.0</text>
<text transform="translate(255.62 130.57) scale(1.3000 1)" font-size="3.625" text-anchor="end">0.2</text>
<text transform="translate(255.62 123.27) scale(1.3000 1)" font-size="3.625" text-anchor="end">0.4</text>
<text transform="translate(255.62 115.97) scale(1.3000 1)" font-size="3.625" text-anchor="end">0.6</text>
<text transform="translate(255.62 108.67) scale(1.3000 1)" font-size="3.625" text-anchor="end">0.8</text>
<text transform="translate(255.62 101.37) scale(1.3000 1)" font-size="3.625" text-anchor="end">1.0</text>
<text transform="translate(358.65 95.83) scale(1.3500 1)" font-size="4.350" text-anchor="middle">Partial Autocorrelation</text>
</g>
<text transform="translate(239 85.4) scale(1.3716 1)" font-size="6.150" text-anchor="middle" font-weight="bold">SPANISH</text>
<g>
<polygon fill="#1f77b4" fill-opacity="0.25" points="34.66,214.29 39.94,212.95 43.46,212.08 46.98,211.37 50.5,210.75 54.02,210.21 57.54,209.7 61.06,209.2 64.58,208.77 68.1,208.38 71.62,208.01 75.14,207.67 78.66,207.33 82.18,207.01 85.7,206.67 89.22,206.38 92.74,206.1 96.26,205.84 99.78,205.58 103.3,205.32 106.82,205.07 110.34,204.81 113.86,204.57 117.38,204.35 120.9,204.13 124.42,203.93 127.94,203.73 131.46,203.52 134.98,203.31 138.5,203.12 142.02,202.94 145.54,202.76 149.06,202.6 152.58,202.43 156.1,202.25 159.62,202.08 163.14,201.91 166.66,201.76 170.18,201.62 173.7,201.47 177.22,201.33 180.74,201.18 184.26,201.03 187.78,200.89 191.3,200.77 194.82,200.65 198.34,200.53 201.86,200.42 205.38,200.3 210.66,200.18 210.66,232.42 205.38,232.3 201.86,232.18 198.34,232.07 194.82,231.95 191.3,231.83 187.78,231.71 184.26,231.57 180.74,231.42 177.22,231.27 173.7,231.13 170.18,230.98 166.66,230.84 163.14,230.69 159.62,230.52 156.1,230.35 152.58,230.17 149.06,230 145.54,229.84 142.02,229.66 138.5,229.48 134.98,229.29 131.46,229.08 127.94,228.87 124.42,228.67 120.9,228.47 117.38,228.25 113.86,228.03 110.34,227.79 106.82,227.53 103.3,227.28 99.78,227.02 96.26,226.76 92.74,226.5 89.22,226.22 85.7,225.93 82.18,225.59 78.66,225.27 75.14,224.93 71.62,224.59 68.1,224.22 64.58,223.83 61.06,223.4 57.54,222.9 54.02,222.39 50.5,221.85 46.98,221.23 43.46,220.52 39.94,219.65 34.66,218.31"/>
<path d="M32.9 216.3V182M36.42 216.3V183.89M39.94 216.3V185.29M43.46 216.3V185.53M46.98 216.3V185.53M50.5 216.3V185.98M54.02 216.3V185.53M57.54 216.3V184.57M61.06 216.3V185.98M64.58 216.3V186.7M68.1 216.3V186.94M71.62 216.3V186.94M75.14 216.3V187.15M78.66 216.3V186.7M82.18 216.3V185.98M85.7 216.3V187.15M89.22 216.3V187.83M92.74 216.3V188.11M96.26 216.3V188.11M99.78 216.3V187.83M103.3 216.3V187.42M106.82 216.3V186.94M110.34 216.3V187.83M113.86 216.3V188.59M117.38 216.3V189.03M120.9 216.3V189.27M124.42 216.3V189.2M127.94 216.3V188.59M131.46 216.3V188.11M134.98 216.3V189.27M138.5 216.3V189.75M142.02 216.3V190.23M145.54 216.3V190.47M149.06 216.3V190.23M152.58 216.3V189.75M156.1 216.3V189.27M159.62 216.3V190.23M163.14 216.3V190.92M166.66 216.3V191.4M170.18 216.3V191.4M173.7 216.3V191.4M177.22 216.3V190.92M180.74 216.3V190.47M184.26 216.3V191.4M187.78 216.3V192.29M191.3 216.3V193.04M194.82 216.3V193.28M198.34 216.3V193.28M201.86 216.3V193.04M205.38 216.3V192.29M208.9 216.3V193.28" stroke="#1f77b4" stroke-opacity="0.72" stroke-width="1.250" fill="none"/>
<line x1="23.3" x2="219.9" y1="216.3" y2="216.3" stroke="#1f77b4" stroke-width="0.544"/>
<ellipse cx="32.9" cy="182" rx="1.50" ry="1.05" fill="#1a6ca8"/>
<ellipse cx="36.42" cy="183.89" rx="1.50" ry="1.05" fill="#1a6ca8"/>
<ellipse cx="39.94" cy="185.29" rx="1.50" ry="1.05" fill="#1a6ca8"/>
<ellipse cx="43.46" cy="185.53" rx="1.50" ry="1.05" fill="#1a6ca8"/>
<ellipse cx="46.98" cy="185.53" rx="1.50" ry="1.05" fill="#1a6ca8"/>
<ellipse cx="50.5" cy="185.98" rx="1.50" ry="1.05" fill="#1a6ca8"/>
<ellipse cx="54.02" cy="185.53" rx="1.50" ry="1.05" fill="#1a6ca8"/>
<ellipse cx="57.54" cy="184.57" rx="1.50" ry="1.05" fill="#1a6ca8"/>
<ellipse cx="61.06" cy="185.98" rx="1.50" ry="1.05" fill="#1a6ca8"/>
<ellipse cx="64.58" cy="186.7" rx="1.50" ry="1.05" fill="#1a6ca8"/>
<ellipse cx="68.1" cy="186.94" rx="1.50" ry="1.05" fill="#1a6ca8"/>
<ellipse cx="71.62" cy="186.94" rx="1.50" ry="1.05" fill="#1a6ca8"/>
<ellipse cx="75.14" cy="187.15" rx="1.50" ry="1.05" fill="#1a6ca8"/>
<ellipse cx="78.66" cy="186.7" rx="1.50" ry="1.05" fill="#1a6ca8"/>
<ellipse cx="82.18" cy="185.98" rx="1.50" ry="1.05" fill="#1a6ca8"/>
<ellipse cx="85.7" cy="187.15" rx="1.50" ry="1.05" fill="#1a6ca8"/>
<ellipse cx="89.22" cy="187.83" rx="1.50" ry="1.05" fill="#1a6ca8"/>
<ellipse cx="92.74" cy="188.11" rx="1.50" ry="1.05" fill="#1a6ca8"/>
<ellipse cx="96.26" cy="188.11" rx="1.50" ry="1.05" fill="#1a6ca8"/>
<ellipse cx="99.78" cy="187.83" rx="1.50" ry="1.05" fill="#1a6ca8"/>
<ellipse cx="103.3" cy="187.42" rx="1.50" ry="1.05" fill="#1a6ca8"/>
<ellipse cx="106.82" cy="186.94" rx="1.50" ry="1.05" fill="#1a6ca8"/>
<ellipse cx="110.34" cy="187.83" rx="1.50" ry="1.05" fill="#1a6ca8"/>
<ellipse cx="113.86" cy="188.59" rx="1.50" ry="1.05" fill="#1a6ca8"/>
<ellipse cx="117.38" cy="189.03" rx="1.50" ry="1.05" fill="#1a6ca8"/>
<ellipse cx="120.9" cy="189.27" rx="1.50" ry="1.05" fill="#1a6ca8"/>
<ellipse cx="124.42" cy="189.2" rx="1.50" ry="1.05" fill="#1a6ca8"/>
<ellipse cx="127.94" cy="188.59" rx="1.50" ry="1.05" fill="#1a6ca8"/>
<ellipse cx="131.46" cy="188.11" rx="1.50" ry="1.05" fill="#1a6ca8"/>
<ellipse cx="134.98" cy="189.27" rx="1.50" ry="1.05" fill="#1a6ca8"/>
<ellipse cx="138.5" cy="189.75" rx="1.50" ry="1.05" fill="#1a6ca8"/>
<ellipse cx="142.02" cy="190.23" rx="1.50" ry="1.05" fill="#1a6ca8"/>
<ellipse cx="145.54" cy="190.47" rx="1.50" ry="1.05" fill="#1a6ca8"/>
<ellipse cx="149.06" cy="190.23" rx="1.50" ry="1.05" fill="#1a6ca8"/>
<ellipse cx="152.58" cy="189.75" rx="1.50" ry="1.05" fill="#1a6ca8"/>
<ellipse cx="156.1" cy="189.27" rx="1.50" ry="1.05" fill="#1a6ca8"/>
<ellipse cx="159.62" cy="190.23" rx="1.50" ry="1.05" fill="#1a6ca8"/>
<ellipse cx="163.14" cy="190.92" rx="1.50" ry="1.05" fill="#1a6ca8"/>
<ellipse cx="166.66" cy="191.4" rx="1.50" ry="1.05" fill="#1a6ca8"/>
<ellipse cx="170.18" cy="191.4" rx="1.50" ry="1.05" fill="#1a6ca8"/>
<ellipse cx="173.7" cy="191.4" rx="1.50" ry="1.05" fill="#1a6ca8"/>
<ellipse cx="177.22" cy="190.92" rx="1.50" ry="1.05" fill="#1a6ca8"/>
<ellipse cx="180.74" cy="190.47" rx="1.50" ry="1.05" fill="#1a6ca8"/>
<ellipse cx="184.26" cy="191.4" rx="1.50" ry="1.05" fill="#1a6ca8"/>
<ellipse cx="187.78" cy="192.29" rx="1.50" ry="1.05" fill="#1a6ca8"/>
<ellipse cx="191.3" cy="193.04" rx="1.50" ry="1.05" fill="#1a6ca8"/>
<ellipse cx="194.82" cy="193.28" rx="1.50" ry="1.05" fill="#1a6ca8"/>
<ellipse cx="198.34" cy="193.28" rx="1.50" ry="1.05" fill="#1a6ca8"/>
<ellipse cx="201.86" cy="193.04" rx="1.50" ry="1.05" fill="#1a6ca8"/>
<ellipse cx="205.38" cy="192.29" rx="1.50" ry="1.05" fill="#1a6ca8"/>
<ellipse cx="208.9" cy="193.28" rx="1.50" ry="1.05" fill="#1a6ca8"/>
<path d="M23.3 179.5V234.9M219.9 179.5V234.9" stroke="#000" stroke-width="0.400" fill="none"/>
<path d="M23.3 179.5H219.9M23.3 234.9H219.9" stroke="#000" stroke-width="0.360" fill="none"/>
<path d="M32.9 234.9v1.27M68.1 234.9v1.27M103.3 234.9v1.27M138.5 234.9v1.27M173.7 234.9v1.27M208.9 234.9v1.27" stroke="#000" stroke-width="0.400" fill="none"/>
<text transform="translate(33.1 240.69) scale(1.3700 1)" font-size="3.625" text-anchor="middle">0</text>
<text transform="translate(68.3 240.69) scale(1.3700 1)" font-size="3.625" text-anchor="middle">10</text>
<text transform="translate(103.5 240.69) scale(1.3700 1)" font-size="3.625" text-anchor="middle">20</text>
<text transform="translate(138.7 240.69) scale(1.3700 1)" font-size="3.625" text-anchor="middle">30</text>
<text transform="translate(173.9 240.69) scale(1.3700 1)" font-size="3.625" text-anchor="middle">40</text>
<text transform="translate(209.1 240.69) scale(1.3700 1)" font-size="3.625" text-anchor="middle">50</text>
<path d="M23.3 233.45h-1.74M23.3 224.88h-1.74M23.3 216.3h-1.74M23.3 207.73h-1.74M23.3 199.15h-1.74M23.3 190.57h-1.74M23.3 182h-1.74" stroke="#000" stroke-width="0.360" fill="none"/>
<text transform="translate(20.22 235.12) scale(1.3000 1)" font-size="3.625" text-anchor="end">−0.50</text>
<text transform="translate(20.22 226.55) scale(1.3000 1)" font-size="3.625" text-anchor="end">−0.25</text>
<text transform="translate(20.22 217.97) scale(1.3000 1)" font-size="3.625" text-anchor="end">0.00</text>
<text transform="translate(20.22 209.4) scale(1.3000 1)" font-size="3.625" text-anchor="end">0.25</text>
<text transform="translate(20.22 200.82) scale(1.3000 1)" font-size="3.625" text-anchor="end">0.50</text>
<text transform="translate(20.22 192.25) scale(1.3000 1)" font-size="3.625" text-anchor="end">0.75</text>
<text transform="translate(20.22 183.67) scale(1.3000 1)" font-size="3.625" text-anchor="end">1.00</text>
<text transform="translate(121.6 177.82) scale(1.3500 1)" font-size="4.350" text-anchor="middle">Autocorrelation</text>
</g>
<g>
<polygon fill="#1f77b4" fill-opacity="0.25" points="269.36,219.66 274.66,219.66 278.18,219.66 281.71,219.66 285.24,219.66 288.77,219.66 292.3,219.66 295.82,219.66 299.35,219.66 302.88,219.66 306.41,219.66 309.94,219.66 313.46,219.66 316.99,219.66 320.52,219.66 324.05,219.66 327.58,219.66 331.1,219.66 334.63,219.66 338.16,219.66 341.69,219.66 345.22,219.66 348.74,219.66 352.27,219.66 355.8,219.66 359.33,219.66 362.86,219.66 366.38,219.66 369.91,219.66 373.44,219.66 376.97,219.66 380.5,219.66 384.02,219.66 387.55,219.66 391.08,219.66 394.61,219.66 398.14,219.66 401.66,219.66 405.19,219.66 408.72,219.66 412.25,219.66 415.78,219.66 419.3,219.66 422.83,219.66 426.36,219.66 429.89,219.66 433.42,219.66 436.94,219.66 440.47,219.66 445.76,219.66 445.76,224.14 440.47,224.14 436.94,224.14 433.42,224.14 429.89,224.14 426.36,224.14 422.83,224.14 419.3,224.14 415.78,224.14 412.25,224.14 408.72,224.14 405.19,224.14 401.66,224.14 398.14,224.14 394.61,224.14 391.08,224.14 387.55,224.14 384.02,224.14 380.5,224.14 376.97,224.14 373.44,224.14 369.91,224.14 366.38,224.14 362.86,224.14 359.33,224.14 355.8,224.14 352.27,224.14 348.74,224.14 345.22,224.14 341.69,224.14 338.16,224.14 334.63,224.14 331.1,224.14 327.58,224.14 324.05,224.14 320.52,224.14 316.99,224.14 313.46,224.14 309.94,224.14 306.41,224.14 302.88,224.14 299.35,224.14 295.82,224.14 292.3,224.14 288.77,224.14 285.24,224.14 281.71,224.14 278.18,224.14 274.66,224.14 269.36,224.14"/>
<path d="M267.6 221.9V181.95M271.13 221.9V184.07M274.66 221.9V216.23M278.18 221.9V209.91M281.71 221.9V216.71M285.24 221.9V218.34M288.77 221.9V209.6M292.3 221.9V211.03M295.82 221.9V232.77M299.35 221.9V223.5M302.88 221.9V222.62M306.41 221.9V221.66M309.94 221.9V219.5M313.46 221.9V214.79M316.99 221.9V215.99M320.52 221.9V227.57M324.05 221.9V224.5M327.58 221.9V222.38M331.1 221.9V221.18M334.63 221.9V220.3M338.16 221.9V219.3M341.69 221.9V220.46M345.22 221.9V229.01M348.74 221.9V224.5M352.27 221.9V223.34M355.8 221.9V223.34M359.33 221.9V220.02M362.86 221.9V220.94M366.38 221.9V219.5M369.91 221.9V224.5M373.44 221.9V223.1M376.97 221.9V222.38M380.5 221.9V224.3M384.02 221.9V219.5M387.55 221.9V222.62M391.08 221.9V219.5M394.61 221.9V224.5M398.14 221.9V220.7M401.66 221.9V224.02M405.19 221.9V222.14M408.72 221.9V221.66M412.25 221.9V221.18M415.78 221.9V221.18M419.3 221.9V226.17M422.83 221.9V222.38M426.36 221.9V224.7M429.89 221.9V224.02M433.42 221.9V222.38M436.94 221.9V220.46M440.47 221.9V221.18M444 221.9V224.98" stroke="#1f77b4" stroke-opacity="0.72" stroke-width="1.250" fill="none"/>
<line x1="258.7" x2="455" y1="221.9" y2="221.9" stroke="#1f77b4" stroke-width="0.544"/>
<ellipse cx="267.6" cy="181.95" rx="1.50" ry="1.05" fill="#1a6ca8"/>
<ellipse cx="271.13" cy="184.07" rx="1.50" ry="1.05" fill="#1a6ca8"/>
<ellipse cx="274.66" cy="216.23" rx="1.50" ry="1.05" fill="#1a6ca8"/>
<ellipse cx="278.18" cy="209.91" rx="1.50" ry="1.05" fill="#1a6ca8"/>
<ellipse cx="281.71" cy="216.71" rx="1.50" ry="1.05" fill="#1a6ca8"/>
<ellipse cx="285.24" cy="218.34" rx="1.50" ry="1.05" fill="#1a6ca8"/>
<ellipse cx="288.77" cy="209.6" rx="1.50" ry="1.05" fill="#1a6ca8"/>
<ellipse cx="292.3" cy="211.03" rx="1.50" ry="1.05" fill="#1a6ca8"/>
<ellipse cx="295.82" cy="232.77" rx="1.50" ry="1.05" fill="#1a6ca8"/>
<ellipse cx="299.35" cy="223.5" rx="1.50" ry="1.05" fill="#1a6ca8"/>
<ellipse cx="302.88" cy="222.62" rx="1.50" ry="1.05" fill="#1a6ca8"/>
<ellipse cx="306.41" cy="221.66" rx="1.50" ry="1.05" fill="#1a6ca8"/>
<ellipse cx="309.94" cy="219.5" rx="1.50" ry="1.05" fill="#1a6ca8"/>
<ellipse cx="313.46" cy="214.79" rx="1.50" ry="1.05" fill="#1a6ca8"/>
<ellipse cx="316.99" cy="215.99" rx="1.50" ry="1.05" fill="#1a6ca8"/>
<ellipse cx="320.52" cy="227.57" rx="1.50" ry="1.05" fill="#1a6ca8"/>
<ellipse cx="324.05" cy="224.5" rx="1.50" ry="1.05" fill="#1a6ca8"/>
<ellipse cx="327.58" cy="222.38" rx="1.50" ry="1.05" fill="#1a6ca8"/>
<ellipse cx="331.1" cy="221.18" rx="1.50" ry="1.05" fill="#1a6ca8"/>
<ellipse cx="334.63" cy="220.3" rx="1.50" ry="1.05" fill="#1a6ca8"/>
<ellipse cx="338.16" cy="219.3" rx="1.50" ry="1.05" fill="#1a6ca8"/>
<ellipse cx="341.69" cy="220.46" rx="1.50" ry="1.05" fill="#1a6ca8"/>
<ellipse cx="345.22" cy="229.01" rx="1.50" ry="1.05" fill="#1a6ca8"/>
<ellipse cx="348.74" cy="224.5" rx="1.50" ry="1.05" fill="#1a6ca8"/>
<ellipse cx="352.27" cy="223.34" rx="1.50" ry="1.05" fill="#1a6ca8"/>
<ellipse cx="355.8" cy="223.34" rx="1.50" ry="1.05" fill="#1a6ca8"/>
<ellipse cx="359.33" cy="220.02" rx="1.50" ry="1.05" fill="#1a6ca8"/>
<ellipse cx="362.86" cy="220.94" rx="1.50" ry="1.05" fill="#1a6ca8"/>
<ellipse cx="366.38" cy="219.5" rx="1.50" ry="1.05" fill="#1a6ca8"/>
<ellipse cx="369.91" cy="224.5" rx="1.50" ry="1.05" fill="#1a6ca8"/>
<ellipse cx="373.44" cy="223.1" rx="1.50" ry="1.05" fill="#1a6ca8"/>
<ellipse cx="376.97" cy="222.38" rx="1.50" ry="1.05" fill="#1a6ca8"/>
<ellipse cx="380.5" cy="224.3" rx="1.50" ry="1.05" fill="#1a6ca8"/>
<ellipse cx="384.02" cy="219.5" rx="1.50" ry="1.05" fill="#1a6ca8"/>
<ellipse cx="387.55" cy="222.62" rx="1.50" ry="1.05" fill="#1a6ca8"/>
<ellipse cx="391.08" cy="219.5" rx="1.50" ry="1.05" fill="#1a6ca8"/>
<ellipse cx="394.61" cy="224.5" rx="1.50" ry="1.05" fill="#1a6ca8"/>
<ellipse cx="398.14" cy="220.7" rx="1.50" ry="1.05" fill="#1a6ca8"/>
<ellipse cx="401.66" cy="224.02" rx="1.50" ry="1.05" fill="#1a6ca8"/>
<ellipse cx="405.19" cy="222.14" rx="1.50" ry="1.05" fill="#1a6ca8"/>
<ellipse cx="408.72" cy="221.66" rx="1.50" ry="1.05" fill="#1a6ca8"/>
<ellipse cx="412.25" cy="221.18" rx="1.50" ry="1.05" fill="#1a6ca8"/>
<ellipse cx="415.78" cy="221.18" rx="1.50" ry="1.05" fill="#1a6ca8"/>
<ellipse cx="419.3" cy="226.17" rx="1.50" ry="1.05" fill="#1a6ca8"/>
<ellipse cx="422.83" cy="222.38" rx="1.50" ry="1.05" fill="#1a6ca8"/>
<ellipse cx="426.36" cy="224.7" rx="1.50" ry="1.05" fill="#1a6ca8"/>
<ellipse cx="429.89" cy="224.02" rx="1.50" ry="1.05" fill="#1a6ca8"/>
<ellipse cx="433.42" cy="222.38" rx="1.50" ry="1.05" fill="#1a6ca8"/>
<ellipse cx="436.94" cy="220.46" rx="1.50" ry="1.05" fill="#1a6ca8"/>
<ellipse cx="440.47" cy="221.18" rx="1.50" ry="1.05" fill="#1a6ca8"/>
<ellipse cx="444" cy="224.98" rx="1.50" ry="1.05" fill="#1a6ca8"/>
<path d="M258.7 179.5V234.9M455 179.5V234.9" stroke="#000" stroke-width="0.400" fill="none"/>
<path d="M258.7 179.5H455M258.7 234.9H455" stroke="#000" stroke-width="0.360" fill="none"/>
<path d="M267.6 234.9v1.27M302.88 234.9v1.27M338.16 234.9v1.27M373.44 234.9v1.27M408.72 234.9v1.27M444 234.9v1.27" stroke="#000" stroke-width="0.400" fill="none"/>
<text transform="translate(267.8 240.69) scale(1.3700 1)" font-size="3.625" text-anchor="middle">0</text>
<text transform="translate(303.08 240.69) scale(1.3700 1)" font-size="3.625" text-anchor="middle">10</text>
<text transform="translate(338.36 240.69) scale(1.3700 1)" font-size="3.625" text-anchor="middle">20</text>
<text transform="translate(373.64 240.69) scale(1.3700 1)" font-size="3.625" text-anchor="middle">30</text>
<text transform="translate(408.92 240.69) scale(1.3700 1)" font-size="3.625" text-anchor="middle">40</text>
<text transform="translate(444.2 240.69) scale(1.3700 1)" font-size="3.625" text-anchor="middle">50</text>
<path d="M258.7 229.89h-1.74M258.7 221.9h-1.74M258.7 213.91h-1.74M258.7 205.92h-1.74M258.7 197.93h-1.74M258.7 189.94h-1.74M258.7 181.95h-1.74" stroke="#000" stroke-width="0.360" fill="none"/>
<text transform="translate(255.62 231.56) scale(1.3000 1)" font-size="3.625" text-anchor="end">−0.2</text>
<text transform="translate(255.62 223.57) scale(1.3000 1)" font-size="3.625" text-anchor="end">0.0</text>
<text transform="translate(255.62 215.58) scale(1.3000 1)" font-size="3.625" text-anchor="end">0.2</text>
<text transform="translate(255.62 207.59) scale(1.3000 1)" font-size="3.625" text-anchor="end">0.4</text>
<text transform="translate(255.62 199.6) scale(1.3000 1)" font-size="3.625" text-anchor="end">0.6</text>
<text transform="translate(255.62 191.61) scale(1.3000 1)" font-size="3.625" text-anchor="end">0.8</text>
<text transform="translate(255.62 183.62) scale(1.3000 1)" font-size="3.625" text-anchor="end">1.0</text>
<text transform="translate(356.85 177.82) scale(1.3500 1)" font-size="4.350" text-anchor="middle">Partial Autocorrelation</text>
</g>
<text transform="translate(235.45 173.1) scale(1.3716 1)" font-size="6.150" text-anchor="middle" font-weight="bold">FRENCH</text>
<g>
<polygon fill="#1f77b4" fill-opacity="0.25" points="32.77,292.82 38.09,291.67 41.64,290.97 45.18,290.43 48.73,289.95 52.28,289.48 55.82,288.99 59.37,288.52 62.91,288.13 66.46,287.8 70.01,287.51 73.55,287.23 77.1,286.94 80.64,286.62 84.19,286.3 87.74,286.01 91.28,285.77 94.83,285.55 98.37,285.33 101.92,285.11 105.47,284.86 109.01,284.6 112.56,284.36 116.1,284.17 119.65,283.99 123.2,283.82 126.74,283.64 130.29,283.43 133.83,283.22 137.38,283.02 140.93,282.85 144.47,282.71 148.02,282.57 151.56,282.42 155.11,282.24 158.66,282.06 162.2,281.89 165.75,281.75 169.29,281.63 172.84,281.51 176.39,281.38 179.93,281.24 183.48,281.08 187.02,280.94 190.57,280.82 194.12,280.71 197.66,280.6 201.21,280.49 204.75,280.36 210.07,280.22 210.07,309.58 204.75,309.44 201.21,309.31 197.66,309.2 194.12,309.09 190.57,308.98 187.02,308.86 183.48,308.72 179.93,308.56 176.39,308.42 172.84,308.29 169.29,308.17 165.75,308.05 162.2,307.91 158.66,307.74 155.11,307.56 151.56,307.38 148.02,307.23 144.47,307.09 140.93,306.95 137.38,306.78 133.83,306.58 130.29,306.37 126.74,306.16 123.2,305.98 119.65,305.81 116.1,305.63 112.56,305.44 109.01,305.2 105.47,304.94 101.92,304.69 98.37,304.47 94.83,304.25 91.28,304.03 87.74,303.79 84.19,303.5 80.64,303.18 77.1,302.86 73.55,302.57 70.01,302.29 66.46,302 62.91,301.67 59.37,301.28 55.82,300.81 52.28,300.32 48.73,299.85 45.18,299.37 41.64,298.83 38.09,298.13 32.77,296.98"/>
<path d="M31 294.9V259.1M34.55 294.9V264.76M38.09 294.9V267.58M41.64 294.9V268.98M45.18 294.9V268.98M48.73 294.9V268.05M52.28 294.9V266.15M55.82 294.9V265.69M59.37 294.9V267.12M62.91 294.9V268.77M66.46 294.9V269.95M70.01 294.9V269.95M73.55 294.9V268.98M77.1 294.9V267.12M80.64 294.9V266.4M84.19 294.9V267.58M87.74 294.9V269.48M91.28 294.9V270.41M94.83 294.9V270.41M98.37 294.9V269.48M101.92 294.9V267.58M105.47 294.9V266.87M109.01 294.9V268.05M112.56 294.9V269.95M116.1 294.9V271.13M119.65 294.9V271.13M123.2 294.9V270.31M126.74 294.9V268.52M130.29 294.9V267.8M133.83 294.9V268.77M137.38 294.9V270.63M140.93 294.9V272.06M144.47 294.9V272.06M148.02 294.9V271.34M151.56 294.9V269.48M155.11 294.9V268.52M158.66 294.9V269.7M162.2 294.9V271.59M165.75 294.9V272.78M169.29 294.9V273.24M172.84 294.9V272.27M176.39 294.9V270.63M179.93 294.9V269.7M183.48 294.9V270.63M187.02 294.9V272.52M190.57 294.9V273.71M194.12 294.9V273.71M197.66 294.9V272.99M201.21 294.9V271.13M204.75 294.9V270.41M208.3 294.9V271.59" stroke="#1f77b4" stroke-opacity="0.72" stroke-width="1.250" fill="none"/>
<line x1="21.7" x2="219.7" y1="294.9" y2="294.9" stroke="#1f77b4" stroke-width="0.544"/>
<ellipse cx="31" cy="259.1" rx="1.50" ry="1.05" fill="#1a6ca8"/>
<ellipse cx="34.55" cy="264.76" rx="1.50" ry="1.05" fill="#1a6ca8"/>
<ellipse cx="38.09" cy="267.58" rx="1.50" ry="1.05" fill="#1a6ca8"/>
<ellipse cx="41.64" cy="268.98" rx="1.50" ry="1.05" fill="#1a6ca8"/>
<ellipse cx="45.18" cy="268.98" rx="1.50" ry="1.05" fill="#1a6ca8"/>
<ellipse cx="48.73" cy="268.05" rx="1.50" ry="1.05" fill="#1a6ca8"/>
<ellipse cx="52.28" cy="266.15" rx="1.50" ry="1.05" fill="#1a6ca8"/>
<ellipse cx="55.82" cy="265.69" rx="1.50" ry="1.05" fill="#1a6ca8"/>
<ellipse cx="59.37" cy="267.12" rx="1.50" ry="1.05" fill="#1a6ca8"/>
<ellipse cx="62.91" cy="268.77" rx="1.50" ry="1.05" fill="#1a6ca8"/>
<ellipse cx="66.46" cy="269.95" rx="1.50" ry="1.05" fill="#1a6ca8"/>
<ellipse cx="70.01" cy="269.95" rx="1.50" ry="1.05" fill="#1a6ca8"/>
<ellipse cx="73.55" cy="268.98" rx="1.50" ry="1.05" fill="#1a6ca8"/>
<ellipse cx="77.1" cy="267.12" rx="1.50" ry="1.05" fill="#1a6ca8"/>
<ellipse cx="80.64" cy="266.4" rx="1.50" ry="1.05" fill="#1a6ca8"/>
<ellipse cx="84.19" cy="267.58" rx="1.50" ry="1.05" fill="#1a6ca8"/>
<ellipse cx="87.74" cy="269.48" rx="1.50" ry="1.05" fill="#1a6ca8"/>
<ellipse cx="91.28" cy="270.41" rx="1.50" ry="1.05" fill="#1a6ca8"/>
<ellipse cx="94.83" cy="270.41" rx="1.50" ry="1.05" fill="#1a6ca8"/>
<ellipse cx="98.37" cy="269.48" rx="1.50" ry="1.05" fill="#1a6ca8"/>
<ellipse cx="101.92" cy="267.58" rx="1.50" ry="1.05" fill="#1a6ca8"/>
<ellipse cx="105.47" cy="266.87" rx="1.50" ry="1.05" fill="#1a6ca8"/>
<ellipse cx="109.01" cy="268.05" rx="1.50" ry="1.05" fill="#1a6ca8"/>
<ellipse cx="112.56" cy="269.95" rx="1.50" ry="1.05" fill="#1a6ca8"/>
<ellipse cx="116.1" cy="271.13" rx="1.50" ry="1.05" fill="#1a6ca8"/>
<ellipse cx="119.65" cy="271.13" rx="1.50" ry="1.05" fill="#1a6ca8"/>
<ellipse cx="123.2" cy="270.31" rx="1.50" ry="1.05" fill="#1a6ca8"/>
<ellipse cx="126.74" cy="268.52" rx="1.50" ry="1.05" fill="#1a6ca8"/>
<ellipse cx="130.29" cy="267.8" rx="1.50" ry="1.05" fill="#1a6ca8"/>
<ellipse cx="133.83" cy="268.77" rx="1.50" ry="1.05" fill="#1a6ca8"/>
<ellipse cx="137.38" cy="270.63" rx="1.50" ry="1.05" fill="#1a6ca8"/>
<ellipse cx="140.93" cy="272.06" rx="1.50" ry="1.05" fill="#1a6ca8"/>
<ellipse cx="144.47" cy="272.06" rx="1.50" ry="1.05" fill="#1a6ca8"/>
<ellipse cx="148.02" cy="271.34" rx="1.50" ry="1.05" fill="#1a6ca8"/>
<ellipse cx="151.56" cy="269.48" rx="1.50" ry="1.05" fill="#1a6ca8"/>
<ellipse cx="155.11" cy="268.52" rx="1.50" ry="1.05" fill="#1a6ca8"/>
<ellipse cx="158.66" cy="269.7" rx="1.50" ry="1.05" fill="#1a6ca8"/>
<ellipse cx="162.2" cy="271.59" rx="1.50" ry="1.05" fill="#1a6ca8"/>
<ellipse cx="165.75" cy="272.78" rx="1.50" ry="1.05" fill="#1a6ca8"/>
<ellipse cx="169.29" cy="273.24" rx="1.50" ry="1.05" fill="#1a6ca8"/>
<ellipse cx="172.84" cy="272.27" rx="1.50" ry="1.05" fill="#1a6ca8"/>
<ellipse cx="176.39" cy="270.63" rx="1.50" ry="1.05" fill="#1a6ca8"/>
<ellipse cx="179.93" cy="269.7" rx="1.50" ry="1.05" fill="#1a6ca8"/>
<ellipse cx="183.48" cy="270.63" rx="1.50" ry="1.05" fill="#1a6ca8"/>
<ellipse cx="187.02" cy="272.52" rx="1.50" ry="1.05" fill="#1a6ca8"/>
<ellipse cx="190.57" cy="273.71" rx="1.50" ry="1.05" fill="#1a6ca8"/>
<ellipse cx="194.12" cy="273.71" rx="1.50" ry="1.05" fill="#1a6ca8"/>
<ellipse cx="197.66" cy="272.99" rx="1.50" ry="1.05" fill="#1a6ca8"/>
<ellipse cx="201.21" cy="271.13" rx="1.50" ry="1.05" fill="#1a6ca8"/>
<ellipse cx="204.75" cy="270.41" rx="1.50" ry="1.05" fill="#1a6ca8"/>
<ellipse cx="208.3" cy="271.59" rx="1.50" ry="1.05" fill="#1a6ca8"/>
<path d="M21.7 256.4V312.1M219.7 256.4V312.1" stroke="#000" stroke-width="0.400" fill="none"/>
<path d="M21.7 256.4H219.7M21.7 312.1H219.7" stroke="#000" stroke-width="0.360" fill="none"/>
<path d="M31 312.1v1.27M66.46 312.1v1.27M101.92 312.1v1.27M137.38 312.1v1.27M172.84 312.1v1.27M208.3 312.1v1.27" stroke="#000" stroke-width="0.400" fill="none"/>
<text transform="translate(31.2 317.89) scale(1.3700 1)" font-size="3.625" text-anchor="middle">0</text>
<text transform="translate(66.66 317.89) scale(1.3700 1)" font-size="3.625" text-anchor="middle">10</text>
<text transform="translate(102.12 317.89) scale(1.3700 1)" font-size="3.625" text-anchor="middle">20</text>
<text transform="translate(137.58 317.89) scale(1.3700 1)" font-size="3.625" text-anchor="middle">30</text>
<text transform="translate(173.04 317.89) scale(1.3700 1)" font-size="3.625" text-anchor="middle">40</text>
<text transform="translate(208.5 317.89) scale(1.3700 1)" font-size="3.625" text-anchor="middle">50</text>
<path d="M21.7 309.22h-1.74M21.7 302.06h-1.74M21.7 294.9h-1.74M21.7 287.74h-1.74M21.7 280.58h-1.74M21.7 273.42h-1.74M21.7 266.26h-1.74M21.7 259.1h-1.74" stroke="#000" stroke-width="0.360" fill="none"/>
<text transform="translate(18.62 310.89) scale(1.3000 1)" font-size="3.625" text-anchor="end">−0.4</text>
<text transform="translate(18.62 303.73) scale(1.3000 1)" font-size="3.625" text-anchor="end">−0.2</text>
<text transform="translate(18.62 296.57) scale(1.3000 1)" font-size="3.625" text-anchor="end">0.0</text>
<text transform="translate(18.62 289.41) scale(1.3000 1)" font-size="3.625" text-anchor="end">0.2</text>
<text transform="translate(18.62 282.25) scale(1.3000 1)" font-size="3.625" text-anchor="end">0.4</text>
<text transform="translate(18.62 275.09) scale(1.3000 1)" font-size="3.625" text-anchor="end">0.6</text>
<text transform="translate(18.62 267.93) scale(1.3000 1)" font-size="3.625" text-anchor="end">0.8</text>
<text transform="translate(18.62 260.77) scale(1.3000 1)" font-size="3.625" text-anchor="end">1.0</text>
<text transform="translate(120.7 254.72) scale(1.3500 1)" font-size="4.350" text-anchor="middle">Autocorrelation</text>
</g>
<g>
<polygon fill="#1f77b4" fill-opacity="0.25" points="269.18,303.27 274.51,303.27 278.06,303.27 281.62,303.27 285.17,303.27 288.72,303.27 292.28,303.27 295.83,303.27 299.39,303.27 302.94,303.27 306.49,303.27 310.05,303.27 313.6,303.27 317.16,303.27 320.71,303.27 324.26,303.27 327.82,303.27 331.37,303.27 334.93,303.27 338.48,303.27 342.03,303.27 345.59,303.27 349.14,303.27 352.7,303.27 356.25,303.27 359.8,303.27 363.36,303.27 366.91,303.27 370.47,303.27 374.02,303.27 377.57,303.27 381.13,303.27 384.68,303.27 388.24,303.27 391.79,303.27 395.34,303.27 398.9,303.27 402.45,303.27 406.01,303.27 409.56,303.27 413.11,303.27 416.67,303.27 420.22,303.27 423.78,303.27 427.33,303.27 430.88,303.27 434.44,303.27 437.99,303.27 441.55,303.27 446.88,303.27 446.88,308.53 441.55,308.53 437.99,308.53 434.44,308.53 430.88,308.53 427.33,308.53 423.78,308.53 420.22,308.53 416.67,308.53 413.11,308.53 409.56,308.53 406.01,308.53 402.45,308.53 398.9,308.53 395.34,308.53 391.79,308.53 388.24,308.53 384.68,308.53 381.13,308.53 377.57,308.53 374.02,308.53 370.47,308.53 366.91,308.53 363.36,308.53 359.8,308.53 356.25,308.53 352.7,308.53 349.14,308.53 345.59,308.53 342.03,308.53 338.48,308.53 334.93,308.53 331.37,308.53 327.82,308.53 324.26,308.53 320.71,308.53 317.16,308.53 313.6,308.53 310.05,308.53 306.49,308.53 302.94,308.53 299.39,308.53 295.83,308.53 292.28,308.53 288.72,308.53 285.17,308.53 281.62,308.53 278.06,308.53 274.51,308.53 269.18,308.53"/>
<path d="M267.4 305.9V259M270.95 305.9V266.03M274.51 305.9V299.05M278.06 305.9V297.93M281.62 305.9V297.46M285.17 305.9V293.42M288.72 305.9V290.42M292.28 305.9V296.71M295.83 305.9V304.73M299.39 305.9V307.31M302.94 305.9V305.67M306.49 305.9V304.73M310.05 305.9V303.79M313.6 305.9V296.71M317.16 305.9V300.98M320.71 305.9V305.2M324.26 305.9V308.48M327.82 305.9V305.2M331.37 305.9V306.6M334.93 305.9V304.26M338.48 305.9V302.38M342.03 305.9V300.51M345.59 305.9V303.09M349.14 305.9V308.25M352.7 305.9V308.57M356.25 305.9V306.84M359.8 305.9V307.31M363.36 305.9V303.55M366.91 305.9V304.73M370.47 305.9V306.13M374.02 305.9V307.54M377.57 305.9V308.01M381.13 305.9V305.9M384.68 305.9V308.71M388.24 305.9V304.26M391.79 305.9V301.68M395.34 305.9V306.84M398.9 305.9V307.07M402.45 305.9V308.48M406.01 305.9V309.18M409.56 305.9V308.01M413.11 305.9V303.55M416.67 305.9V303.79M420.22 305.9V305.2M423.78 305.9V307.31M427.33 305.9V307.54M430.88 305.9V306.6M434.44 305.9V306.84M437.99 305.9V303.55M441.55 305.9V304.73M445.1 305.9V305.43" stroke="#1f77b4" stroke-opacity="0.72" stroke-width="1.250" fill="none"/>
<line x1="258.7" x2="456.4" y1="305.9" y2="305.9" stroke="#1f77b4" stroke-width="0.544"/>
<ellipse cx="267.4" cy="259" rx="1.50" ry="1.05" fill="#1a6ca8"/>
<ellipse cx="270.95" cy="266.03" rx="1.50" ry="1.05" fill="#1a6ca8"/>
<ellipse cx="274.51" cy="299.05" rx="1.50" ry="1.05" fill="#1a6ca8"/>
<ellipse cx="278.06" cy="297.93" rx="1.50" ry="1.05" fill="#1a6ca8"/>
<ellipse cx="281.62" cy="297.46" rx="1.50" ry="1.05" fill="#1a6ca8"/>
<ellipse cx="285.17" cy="293.42" rx="1.50" ry="1.05" fill="#1a6ca8"/>
<ellipse cx="288.72" cy="290.42" rx="1.50" ry="1.05" fill="#1a6ca8"/>
<ellipse cx="292.28" cy="296.71" rx="1.50" ry="1.05" fill="#1a6ca8"/>
<ellipse cx="295.83" cy="304.73" rx="1.50" ry="1.05" fill="#1a6ca8"/>
<ellipse cx="299.39" cy="307.31" rx="1.50" ry="1.05" fill="#1a6ca8"/>
<ellipse cx="302.94" cy="305.67" rx="1.50" ry="1.05" fill="#1a6ca8"/>
<ellipse cx="306.49" cy="304.73" rx="1.50" ry="1.05" fill="#1a6ca8"/>
<ellipse cx="310.05" cy="303.79" rx="1.50" ry="1.05" fill="#1a6ca8"/>
<ellipse cx="313.6" cy="296.71" rx="1.50" ry="1.05" fill="#1a6ca8"/>
<ellipse cx="317.16" cy="300.98" rx="1.50" ry="1.05" fill="#1a6ca8"/>
<ellipse cx="320.71" cy="305.2" rx="1.50" ry="1.05" fill="#1a6ca8"/>
<ellipse cx="324.26" cy="308.48" rx="1.50" ry="1.05" fill="#1a6ca8"/>
<ellipse cx="327.82" cy="305.2" rx="1.50" ry="1.05" fill="#1a6ca8"/>
<ellipse cx="331.37" cy="306.6" rx="1.50" ry="1.05" fill="#1a6ca8"/>
<ellipse cx="334.93" cy="304.26" rx="1.50" ry="1.05" fill="#1a6ca8"/>
<ellipse cx="338.48" cy="302.38" rx="1.50" ry="1.05" fill="#1a6ca8"/>
<ellipse cx="342.03" cy="300.51" rx="1.50" ry="1.05" fill="#1a6ca8"/>
<ellipse cx="345.59" cy="303.09" rx="1.50" ry="1.05" fill="#1a6ca8"/>
<ellipse cx="349.14" cy="308.25" rx="1.50" ry="1.05" fill="#1a6ca8"/>
<ellipse cx="352.7" cy="308.57" rx="1.50" ry="1.05" fill="#1a6ca8"/>
<ellipse cx="356.25" cy="306.84" rx="1.50" ry="1.05" fill="#1a6ca8"/>
<ellipse cx="359.8" cy="307.31" rx="1.50" ry="1.05" fill="#1a6ca8"/>
<ellipse cx="363.36" cy="303.55" rx="1.50" ry="1.05" fill="#1a6ca8"/>
<ellipse cx="366.91" cy="304.73" rx="1.50" ry="1.05" fill="#1a6ca8"/>
<ellipse cx="370.47" cy="306.13" rx="1.50" ry="1.05" fill="#1a6ca8"/>
<ellipse cx="374.02" cy="307.54" rx="1.50" ry="1.05" fill="#1a6ca8"/>
<ellipse cx="377.57" cy="308.01" rx="1.50" ry="1.05" fill="#1a6ca8"/>
<ellipse cx="381.13" cy="305.9" rx="1.50" ry="1.05" fill="#1a6ca8"/>
<ellipse cx="384.68" cy="308.71" rx="1.50" ry="1.05" fill="#1a6ca8"/>
<ellipse cx="388.24" cy="304.26" rx="1.50" ry="1.05" fill="#1a6ca8"/>
<ellipse cx="391.79" cy="301.68" rx="1.50" ry="1.05" fill="#1a6ca8"/>
<ellipse cx="395.34" cy="306.84" rx="1.50" ry="1.05" fill="#1a6ca8"/>
<ellipse cx="398.9" cy="307.07" rx="1.50" ry="1.05" fill="#1a6ca8"/>
<ellipse cx="402.45" cy="308.48" rx="1.50" ry="1.05" fill="#1a6ca8"/>
<ellipse cx="406.01" cy="309.18" rx="1.50" ry="1.05" fill="#1a6ca8"/>
<ellipse cx="409.56" cy="308.01" rx="1.50" ry="1.05" fill="#1a6ca8"/>
<ellipse cx="413.11" cy="303.55" rx="1.50" ry="1.05" fill="#1a6ca8"/>
<ellipse cx="416.67" cy="303.79" rx="1.50" ry="1.05" fill="#1a6ca8"/>
<ellipse cx="420.22" cy="305.2" rx="1.50" ry="1.05" fill="#1a6ca8"/>
<ellipse cx="423.78" cy="307.31" rx="1.50" ry="1.05" fill="#1a6ca8"/>
<ellipse cx="427.33" cy="307.54" rx="1.50" ry="1.05" fill="#1a6ca8"/>
<ellipse cx="430.88" cy="306.6" rx="1.50" ry="1.05" fill="#1a6ca8"/>
<ellipse cx="434.44" cy="306.84" rx="1.50" ry="1.05" fill="#1a6ca8"/>
<ellipse cx="437.99" cy="303.55" rx="1.50" ry="1.05" fill="#1a6ca8"/>
<ellipse cx="441.55" cy="304.73" rx="1.50" ry="1.05" fill="#1a6ca8"/>
<ellipse cx="445.1" cy="305.43" rx="1.50" ry="1.05" fill="#1a6ca8"/>
<path d="M258.7 256.4V312.1M456.4 256.4V312.1" stroke="#000" stroke-width="0.400" fill="none"/>
<path d="M258.7 256.4H456.4M258.7 312.1H456.4" stroke="#000" stroke-width="0.360" fill="none"/>
<path d="M267.4 312.1v1.27M302.94 312.1v1.27M338.48 312.1v1.27M374.02 312.1v1.27M409.56 312.1v1.27M445.1 312.1v1.27" stroke="#000" stroke-width="0.400" fill="none"/>
<text transform="translate(267.6 317.89) scale(1.3700 1)" font-size="3.625" text-anchor="middle">0</text>
<text transform="translate(303.14 317.89) scale(1.3700 1)" font-size="3.625" text-anchor="middle">10</text>
<text transform="translate(338.68 317.89) scale(1.3700 1)" font-size="3.625" text-anchor="middle">20</text>
<text transform="translate(374.22 317.89) scale(1.3700 1)" font-size="3.625" text-anchor="middle">30</text>
<text transform="translate(409.76 317.89) scale(1.3700 1)" font-size="3.625" text-anchor="middle">40</text>
<text transform="translate(445.3 317.89) scale(1.3700 1)" font-size="3.625" text-anchor="middle">50</text>
<path d="M258.7 305.9h-1.74M258.7 296.52h-1.74M258.7 287.14h-1.74M258.7 277.76h-1.74M258.7 268.38h-1.74M258.7 259h-1.74" stroke="#000" stroke-width="0.360" fill="none"/>
<text transform="translate(255.62 307.57) scale(1.3000 1)" font-size="3.625" text-anchor="end">0.0</text>
<text transform="translate(255.62 298.19) scale(1.3000 1)" font-size="3.625" text-anchor="end">0.2</text>
<text transform="translate(255.62 288.81) scale(1.3000 1)" font-size="3.625" text-anchor="end">0.4</text>
<text transform="translate(255.62 279.43) scale(1.3000 1)" font-size="3.625" text-anchor="end">0.6</text>
<text transform="translate(255.62 270.05) scale(1.3000 1)" font-size="3.625" text-anchor="end">0.8</text>
<text transform="translate(255.62 260.67) scale(1.3000 1)" font-size="3.625" text-anchor="end">1.0</text>
<text transform="translate(357.55 254.72) scale(1.3500 1)" font-size="4.350" text-anchor="middle">Partial Autocorrelation</text>
</g>
<text transform="translate(239.3 250.6) scale(1.3716 1)" font-size="6.150" text-anchor="middle" font-weight="bold">JAPANESE</text>
<g>
<polygon fill="#1f77b4" fill-opacity="0.25" points="32.05,371.51 37.44,370.48 41.03,369.83 44.63,369.31 48.23,368.85 51.82,368.47 55.41,368.1 59.01,367.67 62.6,367.35 66.2,367.08 69.8,366.82 73.39,366.57 76.98,366.35 80.58,366.13 84.17,365.86 87.77,365.65 91.37,365.48 94.96,365.31 98.56,365.15 102.15,364.99 105.75,364.82 109.34,364.62 112.94,364.47 116.53,364.33 120.12,364.21 123.72,364.09 127.31,363.98 130.91,363.85 134.5,363.69 138.1,363.57 141.69,363.47 145.29,363.37 148.88,363.27 152.48,363.17 156.07,363.07 159.67,362.94 163.26,362.84 166.86,362.76 170.46,362.68 174.05,362.61 177.65,362.53 181.24,362.45 184.84,362.34 188.43,362.26 192.03,362.2 195.62,362.14 199.22,362.08 202.81,362.01 206.41,361.94 211.8,361.85 211.8,385.95 206.41,385.86 202.81,385.79 199.22,385.72 195.62,385.66 192.03,385.6 188.43,385.54 184.84,385.46 181.24,385.35 177.65,385.27 174.05,385.19 170.46,385.12 166.86,385.04 163.26,384.96 159.67,384.86 156.07,384.73 152.48,384.63 148.88,384.53 145.29,384.43 141.69,384.33 138.1,384.23 134.5,384.11 130.91,383.95 127.31,383.82 123.72,383.71 120.12,383.59 116.53,383.47 112.94,383.33 109.34,383.18 105.75,382.98 102.15,382.81 98.56,382.65 94.96,382.49 91.37,382.32 87.77,382.15 84.17,381.94 80.58,381.67 76.98,381.45 73.39,381.23 69.8,380.98 66.2,380.72 62.6,380.45 59.01,380.13 55.41,379.7 51.82,379.33 48.23,378.95 44.63,378.49 41.03,377.97 37.44,377.32 32.05,376.29"/>
<path d="M30.25 373.9V334.4M33.84 373.9V345.46M37.44 373.9V348.03M41.03 373.9V349.21M44.63 373.9V349.41M48.23 373.9V350.59M51.82 373.9V349.92M55.41 373.9V347.55M59.01 373.9V350.4M62.6 373.9V351.38M66.2 373.9V351.78M69.8 373.9V351.78M73.39 373.9V352.96M76.98 373.9V352.25M80.58 373.9V349.92M84.17 373.9V352.57M87.77 373.9V353.75M91.37 373.9V354.15M94.96 373.9V354.39M98.56 373.9V354.39M102.15 373.9V353.75M105.75 373.9V351.38M109.34 373.9V354.15M112.94 373.9V355.33M116.53 373.9V355.93M120.12 373.9V356.28M123.72 373.9V356.28M127.31 373.9V355.57M130.91 373.9V352.96M134.5 373.9V355.57M138.1 373.9V356.72M141.69 373.9V356.72M145.29 373.9V356.91M148.88 373.9V357.19M152.48 373.9V356.72M156.07 373.9V354.39M159.67 373.9V356.72M163.26 373.9V358.1M166.86 373.9V358.61M170.46 373.9V358.61M174.05 373.9V358.38M177.65 373.9V357.9M181.24 373.9V355.81M184.84 373.9V358.1M188.43 373.9V359.28M192.03 373.9V360.07M195.62 373.9V360.07M199.22 373.9V359.28M202.81 373.9V359.09M206.41 373.9V356.72M210 373.9V360.07" stroke="#1f77b4" stroke-opacity="0.72" stroke-width="1.250" fill="none"/>
<line x1="21.1" x2="221.2" y1="373.9" y2="373.9" stroke="#1f77b4" stroke-width="0.544"/>
<ellipse cx="30.25" cy="334.4" rx="1.50" ry="1.05" fill="#1a6ca8"/>
<ellipse cx="33.84" cy="345.46" rx="1.50" ry="1.05" fill="#1a6ca8"/>
<ellipse cx="37.44" cy="348.03" rx="1.50" ry="1.05" fill="#1a6ca8"/>
<ellipse cx="41.03" cy="349.21" rx="1.50" ry="1.05" fill="#1a6ca8"/>
<ellipse cx="44.63" cy="349.41" rx="1.50" ry="1.05" fill="#1a6ca8"/>
<ellipse cx="48.23" cy="350.59" rx="1.50" ry="1.05" fill="#1a6ca8"/>
<ellipse cx="51.82" cy="349.92" rx="1.50" ry="1.05" fill="#1a6ca8"/>
<ellipse cx="55.41" cy="347.55" rx="1.50" ry="1.05" fill="#1a6ca8"/>
<ellipse cx="59.01" cy="350.4" rx="1.50" ry="1.05" fill="#1a6ca8"/>
<ellipse cx="62.6" cy="351.38" rx="1.50" ry="1.05" fill="#1a6ca8"/>
<ellipse cx="66.2" cy="351.78" rx="1.50" ry="1.05" fill="#1a6ca8"/>
<ellipse cx="69.8" cy="351.78" rx="1.50" ry="1.05" fill="#1a6ca8"/>
<ellipse cx="73.39" cy="352.96" rx="1.50" ry="1.05" fill="#1a6ca8"/>
<ellipse cx="76.98" cy="352.25" rx="1.50" ry="1.05" fill="#1a6ca8"/>
<ellipse cx="80.58" cy="349.92" rx="1.50" ry="1.05" fill="#1a6ca8"/>
<ellipse cx="84.17" cy="352.57" rx="1.50" ry="1.05" fill="#1a6ca8"/>
<ellipse cx="87.77" cy="353.75" rx="1.50" ry="1.05" fill="#1a6ca8"/>
<ellipse cx="91.37" cy="354.15" rx="1.50" ry="1.05" fill="#1a6ca8"/>
<ellipse cx="94.96" cy="354.39" rx="1.50" ry="1.05" fill="#1a6ca8"/>
<ellipse cx="98.56" cy="354.39" rx="1.50" ry="1.05" fill="#1a6ca8"/>
<ellipse cx="102.15" cy="353.75" rx="1.50" ry="1.05" fill="#1a6ca8"/>
<ellipse cx="105.75" cy="351.38" rx="1.50" ry="1.05" fill="#1a6ca8"/>
<ellipse cx="109.34" cy="354.15" rx="1.50" ry="1.05" fill="#1a6ca8"/>
<ellipse cx="112.94" cy="355.33" rx="1.50" ry="1.05" fill="#1a6ca8"/>
<ellipse cx="116.53" cy="355.93" rx="1.50" ry="1.05" fill="#1a6ca8"/>
<ellipse cx="120.12" cy="356.28" rx="1.50" ry="1.05" fill="#1a6ca8"/>
<ellipse cx="123.72" cy="356.28" rx="1.50" ry="1.05" fill="#1a6ca8"/>
<ellipse cx="127.31" cy="355.57" rx="1.50" ry="1.05" fill="#1a6ca8"/>
<ellipse cx="130.91" cy="352.96" rx="1.50" ry="1.05" fill="#1a6ca8"/>
<ellipse cx="134.5" cy="355.57" rx="1.50" ry="1.05" fill="#1a6ca8"/>
<ellipse cx="138.1" cy="356.72" rx="1.50" ry="1.05" fill="#1a6ca8"/>
<ellipse cx="141.69" cy="356.72" rx="1.50" ry="1.05" fill="#1a6ca8"/>
<ellipse cx="145.29" cy="356.91" rx="1.50" ry="1.05" fill="#1a6ca8"/>
<ellipse cx="148.88" cy="357.19" rx="1.50" ry="1.05" fill="#1a6ca8"/>
<ellipse cx="152.48" cy="356.72" rx="1.50" ry="1.05" fill="#1a6ca8"/>
<ellipse cx="156.07" cy="354.39" rx="1.50" ry="1.05" fill="#1a6ca8"/>
<ellipse cx="159.67" cy="356.72" rx="1.50" ry="1.05" fill="#1a6ca8"/>
<ellipse cx="163.26" cy="358.1" rx="1.50" ry="1.05" fill="#1a6ca8"/>
<ellipse cx="166.86" cy="358.61" rx="1.50" ry="1.05" fill="#1a6ca8"/>
<ellipse cx="170.46" cy="358.61" rx="1.50" ry="1.05" fill="#1a6ca8"/>
<ellipse cx="174.05" cy="358.38" rx="1.50" ry="1.05" fill="#1a6ca8"/>
<ellipse cx="177.65" cy="357.9" rx="1.50" ry="1.05" fill="#1a6ca8"/>
<ellipse cx="181.24" cy="355.81" rx="1.50" ry="1.05" fill="#1a6ca8"/>
<ellipse cx="184.84" cy="358.1" rx="1.50" ry="1.05" fill="#1a6ca8"/>
<ellipse cx="188.43" cy="359.28" rx="1.50" ry="1.05" fill="#1a6ca8"/>
<ellipse cx="192.03" cy="360.07" rx="1.50" ry="1.05" fill="#1a6ca8"/>
<ellipse cx="195.62" cy="360.07" rx="1.50" ry="1.05" fill="#1a6ca8"/>
<ellipse cx="199.22" cy="359.28" rx="1.50" ry="1.05" fill="#1a6ca8"/>
<ellipse cx="202.81" cy="359.09" rx="1.50" ry="1.05" fill="#1a6ca8"/>
<ellipse cx="206.41" cy="356.72" rx="1.50" ry="1.05" fill="#1a6ca8"/>
<ellipse cx="210" cy="360.07" rx="1.50" ry="1.05" fill="#1a6ca8"/>
<path d="M21.1 331.7V388.5M221.2 331.7V388.5" stroke="#000" stroke-width="0.400" fill="none"/>
<path d="M21.1 331.7H221.2M21.1 388.5H221.2" stroke="#000" stroke-width="0.360" fill="none"/>
<path d="M30.25 388.5v1.27M66.2 388.5v1.27M102.15 388.5v1.27M138.1 388.5v1.27M174.05 388.5v1.27M210 388.5v1.27" stroke="#000" stroke-width="0.400" fill="none"/>
<text transform="translate(30.45 394.29) scale(1.3700 1)" font-size="3.625" text-anchor="middle">0</text>
<text transform="translate(66.4 394.29) scale(1.3700 1)" font-size="3.625" text-anchor="middle">10</text>
<text transform="translate(102.35 394.29) scale(1.3700 1)" font-size="3.625" text-anchor="middle">20</text>
<text transform="translate(138.3 394.29) scale(1.3700 1)" font-size="3.625" text-anchor="middle">30</text>
<text transform="translate(174.25 394.29) scale(1.3700 1)" font-size="3.625" text-anchor="middle">40</text>
<text transform="translate(210.2 394.29) scale(1.3700 1)" font-size="3.625" text-anchor="middle">50</text>
<path d="M21.1 381.8h-1.74M21.1 373.9h-1.74M21.1 366h-1.74M21.1 358.1h-1.74M21.1 350.2h-1.74M21.1 342.3h-1.74M21.1 334.4h-1.74" stroke="#000" stroke-width="0.360" fill="none"/>
<text transform="translate(18.02 383.47) scale(1.3000 1)" font-size="3.625" text-anchor="end">−0.2</text>
<text transform="translate(18.02 375.57) scale(1.3000 1)" font-size="3.625" text-anchor="end">0.0</text>
<text transform="translate(18.02 367.67) scale(1.3000 1)" font-size="3.625" text-anchor="end">0.2</text>
<text transform="translate(18.02 359.77) scale(1.3000 1)" font-size="3.625" text-anchor="end">0.4</text>
<text transform="translate(18.02 351.87) scale(1.3000 1)" font-size="3.625" text-anchor="end">0.6</text>
<text transform="translate(18.02 343.97) scale(1.3000 1)" font-size="3.625" text-anchor="end">0.8</text>
<text transform="translate(18.02 336.07) scale(1.3000 1)" font-size="3.625" text-anchor="end">1.0</text>
<text transform="translate(121.15 330.02) scale(1.3500 1)" font-size="4.350" text-anchor="middle">Autocorrelation</text>
</g>
<g>
<polygon fill="#1f77b4" fill-opacity="0.25" points="271.9,378.56 277.3,378.56 280.9,378.56 284.5,378.56 288.1,378.56 291.7,378.56 295.3,378.56 298.9,378.56 302.5,378.56 306.1,378.56 309.7,378.56 313.3,378.56 316.9,378.56 320.5,378.56 324.1,378.56 327.7,378.56 331.3,378.56 334.9,378.56 338.5,378.56 342.1,378.56 345.7,378.56 349.3,378.56 352.9,378.56 356.5,378.56 360.1,378.56 363.7,378.56 367.3,378.56 370.9,378.56 374.5,378.56 378.1,378.56 381.7,378.56 385.3,378.56 388.9,378.56 392.5,378.56 396.1,378.56 399.7,378.56 403.3,378.56 406.9,378.56 410.5,378.56 414.1,378.56 417.7,378.56 421.3,378.56 424.9,378.56 428.5,378.56 432.1,378.56 435.7,378.56 439.3,378.56 442.9,378.56 446.5,378.56 451.9,378.56 451.9,383.84 446.5,383.84 442.9,383.84 439.3,383.84 435.7,383.84 432.1,383.84 428.5,383.84 424.9,383.84 421.3,383.84 417.7,383.84 414.1,383.84 410.5,383.84 406.9,383.84 403.3,383.84 399.7,383.84 396.1,383.84 392.5,383.84 388.9,383.84 385.3,383.84 381.7,383.84 378.1,383.84 374.5,383.84 370.9,383.84 367.3,383.84 363.7,383.84 360.1,383.84 356.5,383.84 352.9,383.84 349.3,383.84 345.7,383.84 342.1,383.84 338.5,383.84 334.9,383.84 331.3,383.84 327.7,383.84 324.1,383.84 320.5,383.84 316.9,383.84 313.3,383.84 309.7,383.84 306.1,383.84 302.5,383.84 298.9,383.84 295.3,383.84 291.7,383.84 288.1,383.84 284.5,383.84 280.9,383.84 277.3,383.84 271.9,383.84"/>
<path d="M270.1 381.2V334.1M273.7 381.2V347.05M277.3 381.2V368.72M280.9 381.2V371.78M284.5 381.2V372.96M288.1 381.2V377.43M291.7 381.2V373.43M295.3 381.2V368.48M298.9 381.2V383.79M302.5 381.2V380.73M306.1 381.2V379.79M309.7 381.2V380.02M313.3 381.2V380.49M316.9 381.2V378.14M320.5 381.2V372.96M324.1 381.2V384.5M327.7 381.2V383.32M331.3 381.2V381.2M334.9 381.2V381.67M338.5 381.2V378.84M342.1 381.2V378.84M345.7 381.2V375.31M349.3 381.2V384.73M352.9 381.2V382.14M356.5 381.2V382.85M360.1 381.2V382.85M363.7 381.2V380.02M367.3 381.2V380.02M370.9 381.2V374.13M374.5 381.2V384.26M378.1 381.2V382.85M381.7 381.2V380.26M385.3 381.2V380.73M388.9 381.2V380.02M392.5 381.2V381.91M396.1 381.2V376.73M399.7 381.2V381.67M403.3 381.2V384.03M406.9 381.2V381.2M410.5 381.2V382.14M414.1 381.2V378.84M417.7 381.2V380.49M421.3 381.2V378.37M424.9 381.2V384.26M428.5 381.2V381.44M432.1 381.2V382.14M435.7 381.2V381.67M439.3 381.2V378.14M442.9 381.2V382.14M446.5 381.2V378.14M450.1 381.2V385.67" stroke="#1f77b4" stroke-opacity="0.72" stroke-width="1.250" fill="none"/>
<line x1="261.4" x2="461.2" y1="381.2" y2="381.2" stroke="#1f77b4" stroke-width="0.544"/>
<ellipse cx="270.1" cy="334.1" rx="1.50" ry="1.05" fill="#1a6ca8"/>
<ellipse cx="273.7" cy="347.05" rx="1.50" ry="1.05" fill="#1a6ca8"/>
<ellipse cx="277.3" cy="368.72" rx="1.50" ry="1.05" fill="#1a6ca8"/>
<ellipse cx="280.9" cy="371.78" rx="1.50" ry="1.05" fill="#1a6ca8"/>
<ellipse cx="284.5" cy="372.96" rx="1.50" ry="1.05" fill="#1a6ca8"/>
<ellipse cx="288.1" cy="377.43" rx="1.50" ry="1.05" fill="#1a6ca8"/>
<ellipse cx="291.7" cy="373.43" rx="1.50" ry="1.05" fill="#1a6ca8"/>
<ellipse cx="295.3" cy="368.48" rx="1.50" ry="1.05" fill="#1a6ca8"/>
<ellipse cx="298.9" cy="383.79" rx="1.50" ry="1.05" fill="#1a6ca8"/>
<ellipse cx="302.5" cy="380.73" rx="1.50" ry="1.05" fill="#1a6ca8"/>
<ellipse cx="306.1" cy="379.79" rx="1.50" ry="1.05" fill="#1a6ca8"/>
<ellipse cx="309.7" cy="380.02" rx="1.50" ry="1.05" fill="#1a6ca8"/>
<ellipse cx="313.3" cy="380.49" rx="1.50" ry="1.05" fill="#1a6ca8"/>
<ellipse cx="316.9" cy="378.14" rx="1.50" ry="1.05" fill="#1a6ca8"/>
<ellipse cx="320.5" cy="372.96" rx="1.50" ry="1.05" fill="#1a6ca8"/>
<ellipse cx="324.1" cy="384.5" rx="1.50" ry="1.05" fill="#1a6ca8"/>
<ellipse cx="327.7" cy="383.32" rx="1.50" ry="1.05" fill="#1a6ca8"/>
<ellipse cx="331.3" cy="381.2" rx="1.50" ry="1.05" fill="#1a6ca8"/>
<ellipse cx="334.9" cy="381.67" rx="1.50" ry="1.05" fill="#1a6ca8"/>
<ellipse cx="338.5" cy="378.84" rx="1.50" ry="1.05" fill="#1a6ca8"/>
<ellipse cx="342.1" cy="378.84" rx="1.50" ry="1.05" fill="#1a6ca8"/>
<ellipse cx="345.7" cy="375.31" rx="1.50" ry="1.05" fill="#1a6ca8"/>
<ellipse cx="349.3" cy="384.73" rx="1.50" ry="1.05" fill="#1a6ca8"/>
<ellipse cx="352.9" cy="382.14" rx="1.50" ry="1.05" fill="#1a6ca8"/>
<ellipse cx="356.5" cy="382.85" rx="1.50" ry="1.05" fill="#1a6ca8"/>
<ellipse cx="360.1" cy="382.85" rx="1.50" ry="1.05" fill="#1a6ca8"/>
<ellipse cx="363.7" cy="380.02" rx="1.50" ry="1.05" fill="#1a6ca8"/>
<ellipse cx="367.3" cy="380.02" rx="1.50" ry="1.05" fill="#1a6ca8"/>
<ellipse cx="370.9" cy="374.13" rx="1.50" ry="1.05" fill="#1a6ca8"/>
<ellipse cx="374.5" cy="384.26" rx="1.50" ry="1.05" fill="#1a6ca8"/>
<ellipse cx="378.1" cy="382.85" rx="1.50" ry="1.05" fill="#1a6ca8"/>
<ellipse cx="381.7" cy="380.26" rx="1.50" ry="1.05" fill="#1a6ca8"/>
<ellipse cx="385.3" cy="380.73" rx="1.50" ry="1.05" fill="#1a6ca8"/>
<ellipse cx="388.9" cy="380.02" rx="1.50" ry="1.05" fill="#1a6ca8"/>
<ellipse cx="392.5" cy="381.91" rx="1.50" ry="1.05" fill="#1a6ca8"/>
<ellipse cx="396.1" cy="376.73" rx="1.50" ry="1.05" fill="#1a6ca8"/>
<ellipse cx="399.7" cy="381.67" rx="1.50" ry="1.05" fill="#1a6ca8"/>
<ellipse cx="403.3" cy="384.03" rx="1.50" ry="1.05" fill="#1a6ca8"/>
<ellipse cx="406.9" cy="381.2" rx="1.50" ry="1.05" fill="#1a6ca8"/>
<ellipse cx="410.5" cy="382.14" rx="1.50" ry="1.05" fill="#1a6ca8"/>
<ellipse cx="414.1" cy="378.84" rx="1.50" ry="1.05" fill="#1a6ca8"/>
<ellipse cx="417.7" cy="380.49" rx="1.50" ry="1.05" fill="#1a6ca8"/>
<ellipse cx="421.3" cy="378.37" rx="1.50" ry="1.05" fill="#1a6ca8"/>
<ellipse cx="424.9" cy="384.26" rx="1.50" ry="1.05" fill="#1a6ca8"/>
<ellipse cx="428.5" cy="381.44" rx="1.50" ry="1.05" fill="#1a6ca8"/>
<ellipse cx="432.1" cy="382.14" rx="1.50" ry="1.05" fill="#1a6ca8"/>
<ellipse cx="435.7" cy="381.67" rx="1.50" ry="1.05" fill="#1a6ca8"/>
<ellipse cx="439.3" cy="378.14" rx="1.50" ry="1.05" fill="#1a6ca8"/>
<ellipse cx="442.9" cy="382.14" rx="1.50" ry="1.05" fill="#1a6ca8"/>
<ellipse cx="446.5" cy="378.14" rx="1.50" ry="1.05" fill="#1a6ca8"/>
<ellipse cx="450.1" cy="385.67" rx="1.50" ry="1.05" fill="#1a6ca8"/>
<path d="M261.4 331.7V388.5M461.2 331.7V388.5" stroke="#000" stroke-width="0.400" fill="none"/>
<path d="M261.4 331.7H461.2M261.4 388.5H461.2" stroke="#000" stroke-width="0.360" fill="none"/>
<path d="M270.1 388.5v1.27M306.1 388.5v1.27M342.1 388.5v1.27M378.1 388.5v1.27M414.1 388.5v1.27M450.1 388.5v1.27" stroke="#000" stroke-width="0.400" fill="none"/>
<text transform="translate(270.3 394.29) scale(1.3700 1)" font-size="3.625" text-anchor="middle">0</text>
<text transform="translate(306.3 394.29) scale(1.3700 1)" font-size="3.625" text-anchor="middle">10</text>
<text transform="translate(342.3 394.29) scale(1.3700 1)" font-size="3.625" text-anchor="middle">20</text>
<text transform="translate(378.3 394.29) scale(1.3700 1)" font-size="3.625" text-anchor="middle">30</text>
<text transform="translate(414.3 394.29) scale(1.3700 1)" font-size="3.625" text-anchor="middle">40</text>
<text transform="translate(450.3 394.29) scale(1.3700 1)" font-size="3.625" text-anchor="middle">50</text>
<path d="M261.4 381.2h-1.74M261.4 371.78h-1.74M261.4 362.36h-1.74M261.4 352.94h-1.74M261.4 343.52h-1.74M261.4 334.1h-1.74" stroke="#000" stroke-width="0.360" fill="none"/>
<text transform="translate(258.32 382.87) scale(1.3000 1)" font-size="3.625" text-anchor="end">0.0</text>
<text transform="translate(258.32 373.45) scale(1.3000 1)" font-size="3.625" text-anchor="end">0.2</text>
<text transform="translate(258.32 364.03) scale(1.3000 1)" font-size="3.625" text-anchor="end">0.4</text>
<text transform="translate(258.32 354.61) scale(1.3000 1)" font-size="3.625" text-anchor="end">0.6</text>
<text transform="translate(258.32 345.19) scale(1.3000 1)" font-size="3.625" text-anchor="end">0.8</text>
<text transform="translate(258.32 335.77) scale(1.3000 1)" font-size="3.625" text-anchor="end">1.0</text>
<text transform="translate(361.3 330.02) scale(1.3500 1)" font-size="4.350" text-anchor="middle">Partial Autocorrelation</text>
</g>
<text transform="translate(239.4 324.8) scale(1.3716 1)" font-size="6.150" text-anchor="middle" font-weight="bold">GERMAN</text>
<g>
<polygon fill="#1f77b4" fill-opacity="0.25" points="28,451.26 33.39,450.09 36.99,449.43 40.58,448.96 44.18,448.59 47.78,448.27 51.37,448 54.97,447.75 58.56,447.55 62.16,447.38 65.76,447.23 69.35,447.08 72.95,446.94 76.54,446.8 80.14,446.66 83.74,446.51 87.33,446.38 90.93,446.26 94.52,446.17 98.12,446.07 101.72,445.99 105.31,445.91 108.91,445.84 112.5,445.78 116.1,445.72 119.7,445.66 123.29,445.61 126.89,445.56 130.48,445.51 134.08,445.46 137.68,445.42 141.27,445.38 144.87,445.34 148.46,445.3 152.06,445.27 155.66,445.24 159.25,445.21 162.85,445.18 166.44,445.15 170.04,445.13 173.64,445.11 177.23,445.09 180.83,445.07 184.42,445.05 188.02,445.03 191.62,445.01 195.21,445 198.81,444.99 202.4,444.97 207.8,444.96 207.8,462.44 202.4,462.43 198.81,462.41 195.21,462.4 191.62,462.39 188.02,462.37 184.42,462.35 180.83,462.33 177.23,462.31 173.64,462.29 170.04,462.27 166.44,462.25 162.85,462.22 159.25,462.19 155.66,462.16 152.06,462.13 148.46,462.1 144.87,462.06 141.27,462.02 137.68,461.98 134.08,461.94 130.48,461.89 126.89,461.84 123.29,461.79 119.7,461.74 116.1,461.68 112.5,461.62 108.91,461.56 105.31,461.49 101.72,461.41 98.12,461.33 94.52,461.23 90.93,461.14 87.33,461.02 83.74,460.89 80.14,460.74 76.54,460.6 72.95,460.46 69.35,460.32 65.76,460.17 62.16,460.02 58.56,459.85 54.97,459.65 51.37,459.4 47.78,459.13 44.18,458.81 40.58,458.44 36.99,457.97 33.39,457.31 28,456.14"/>
<path d="M26.2 453.7V411.05M29.8 453.7V420.73M33.39 453.7V425.68M36.99 453.7V428.11M40.58 453.7V430.16M44.18 453.7V431.1M47.78 453.7V432.03M51.37 453.7V432.97M54.97 453.7V434.38M58.56 453.7V435.79M62.16 453.7V436.26M65.76 453.7V436.73M69.35 453.7V436.73M72.95 453.7V436.51M76.54 453.7V436.04M80.14 453.7V436.04M83.74 453.7V436.51M87.33 453.7V437.66M90.93 453.7V438.6M94.52 453.7V439.07M98.12 453.7V439.8M101.72 453.7V440.05M105.31 453.7V440.73M108.91 453.7V441.2M112.5 453.7V441.67M116.1 453.7V441.93M119.7 453.7V442.18M123.29 453.7V442.4M126.89 453.7V442.61M130.48 453.7V442.87M134.08 453.7V443.55M137.68 453.7V443.81M141.27 453.7V443.81M144.87 453.7V444.02M148.46 453.7V444.32M152.06 453.7V444.53M155.66 453.7V444.74M159.25 453.7V445.17M162.85 453.7V445.68M166.44 453.7V445.94M170.04 453.7V446.41M173.64 453.7V446.41M177.23 453.7V446.15M180.83 453.7V446.15M184.42 453.7V446.62M188.02 453.7V447.09M191.62 453.7V447.56M195.21 453.7V447.81M198.81 453.7V447.56M202.4 453.7V447.56M206 453.7V447.81" stroke="#1f77b4" stroke-opacity="0.72" stroke-width="1.250" fill="none"/>
<line x1="16.9" x2="217.2" y1="453.7" y2="453.7" stroke="#1f77b4" stroke-width="0.544"/>
<ellipse cx="26.2" cy="411.05" rx="1.50" ry="1.05" fill="#1a6ca8"/>
<ellipse cx="29.8" cy="420.73" rx="1.50" ry="1.05" fill="#1a6ca8"/>
<ellipse cx="33.39" cy="425.68" rx="1.50" ry="1.05" fill="#1a6ca8"/>
<ellipse cx="36.99" cy="428.11" rx="1.50" ry="1.05" fill="#1a6ca8"/>
<ellipse cx="40.58" cy="430.16" rx="1.50" ry="1.05" fill="#1a6ca8"/>
<ellipse cx="44.18" cy="431.1" rx="1.50" ry="1.05" fill="#1a6ca8"/>
<ellipse cx="47.78" cy="432.03" rx="1.50" ry="1.05" fill="#1a6ca8"/>
<ellipse cx="51.37" cy="432.97" rx="1.50" ry="1.05" fill="#1a6ca8"/>
<ellipse cx="54.97" cy="434.38" rx="1.50" ry="1.05" fill="#1a6ca8"/>
<ellipse cx="58.56" cy="435.79" rx="1.50" ry="1.05" fill="#1a6ca8"/>
<ellipse cx="62.16" cy="436.26" rx="1.50" ry="1.05" fill="#1a6ca8"/>
<ellipse cx="65.76" cy="436.73" rx="1.50" ry="1.05" fill="#1a6ca8"/>
<ellipse cx="69.35" cy="436.73" rx="1.50" ry="1.05" fill="#1a6ca8"/>
<ellipse cx="72.95" cy="436.51" rx="1.50" ry="1.05" fill="#1a6ca8"/>
<ellipse cx="76.54" cy="436.04" rx="1.50" ry="1.05" fill="#1a6ca8"/>
<ellipse cx="80.14" cy="436.04" rx="1.50" ry="1.05" fill="#1a6ca8"/>
<ellipse cx="83.74" cy="436.51" rx="1.50" ry="1.05" fill="#1a6ca8"/>
<ellipse cx="87.33" cy="437.66" rx="1.50" ry="1.05" fill="#1a6ca8"/>
<ellipse cx="90.93" cy="438.6" rx="1.50" ry="1.05" fill="#1a6ca8"/>
<ellipse cx="94.52" cy="439.07" rx="1.50" ry="1.05" fill="#1a6ca8"/>
<ellipse cx="98.12" cy="439.8" rx="1.50" ry="1.05" fill="#1a6ca8"/>
<ellipse cx="101.72" cy="440.05" rx="1.50" ry="1.05" fill="#1a6ca8"/>
<ellipse cx="105.31" cy="440.73" rx="1.50" ry="1.05" fill="#1a6ca8"/>
<ellipse cx="108.91" cy="441.2" rx="1.50" ry="1.05" fill="#1a6ca8"/>
<ellipse cx="112.5" cy="441.67" rx="1.50" ry="1.05" fill="#1a6ca8"/>
<ellipse cx="116.1" cy="441.93" rx="1.50" ry="1.05" fill="#1a6ca8"/>
<ellipse cx="119.7" cy="442.18" rx="1.50" ry="1.05" fill="#1a6ca8"/>
<ellipse cx="123.29" cy="442.4" rx="1.50" ry="1.05" fill="#1a6ca8"/>
<ellipse cx="126.89" cy="442.61" rx="1.50" ry="1.05" fill="#1a6ca8"/>
<ellipse cx="130.48" cy="442.87" rx="1.50" ry="1.05" fill="#1a6ca8"/>
<ellipse cx="134.08" cy="443.55" rx="1.50" ry="1.05" fill="#1a6ca8"/>
<ellipse cx="137.68" cy="443.81" rx="1.50" ry="1.05" fill="#1a6ca8"/>
<ellipse cx="141.27" cy="443.81" rx="1.50" ry="1.05" fill="#1a6ca8"/>
<ellipse cx="144.87" cy="444.02" rx="1.50" ry="1.05" fill="#1a6ca8"/>
<ellipse cx="148.46" cy="444.32" rx="1.50" ry="1.05" fill="#1a6ca8"/>
<ellipse cx="152.06" cy="444.53" rx="1.50" ry="1.05" fill="#1a6ca8"/>
<ellipse cx="155.66" cy="444.74" rx="1.50" ry="1.05" fill="#1a6ca8"/>
<ellipse cx="159.25" cy="445.17" rx="1.50" ry="1.05" fill="#1a6ca8"/>
<ellipse cx="162.85" cy="445.68" rx="1.50" ry="1.05" fill="#1a6ca8"/>
<ellipse cx="166.44" cy="445.94" rx="1.50" ry="1.05" fill="#1a6ca8"/>
<ellipse cx="170.04" cy="446.41" rx="1.50" ry="1.05" fill="#1a6ca8"/>
<ellipse cx="173.64" cy="446.41" rx="1.50" ry="1.05" fill="#1a6ca8"/>
<ellipse cx="177.23" cy="446.15" rx="1.50" ry="1.05" fill="#1a6ca8"/>
<ellipse cx="180.83" cy="446.15" rx="1.50" ry="1.05" fill="#1a6ca8"/>
<ellipse cx="184.42" cy="446.62" rx="1.50" ry="1.05" fill="#1a6ca8"/>
<ellipse cx="188.02" cy="447.09" rx="1.50" ry="1.05" fill="#1a6ca8"/>
<ellipse cx="191.62" cy="447.56" rx="1.50" ry="1.05" fill="#1a6ca8"/>
<ellipse cx="195.21" cy="447.81" rx="1.50" ry="1.05" fill="#1a6ca8"/>
<ellipse cx="198.81" cy="447.56" rx="1.50" ry="1.05" fill="#1a6ca8"/>
<ellipse cx="202.4" cy="447.56" rx="1.50" ry="1.05" fill="#1a6ca8"/>
<ellipse cx="206" cy="447.81" rx="1.50" ry="1.05" fill="#1a6ca8"/>
<path d="M16.9 408.7V465M217.2 408.7V465" stroke="#000" stroke-width="0.400" fill="none"/>
<path d="M16.9 408.7H217.2M16.9 465H217.2" stroke="#000" stroke-width="0.360" fill="none"/>
<path d="M26.2 465v1.27M62.16 465v1.27M98.12 465v1.27M134.08 465v1.27M170.04 465v1.27M206 465v1.27" stroke="#000" stroke-width="0.400" fill="none"/>
<text transform="translate(26.4 470.79) scale(1.3700 1)" font-size="3.625" text-anchor="middle">0</text>
<text transform="translate(62.36 470.79) scale(1.3700 1)" font-size="3.625" text-anchor="middle">10</text>
<text transform="translate(98.32 470.79) scale(1.3700 1)" font-size="3.625" text-anchor="middle">20</text>
<text transform="translate(134.28 470.79) scale(1.3700 1)" font-size="3.625" text-anchor="middle">30</text>
<text transform="translate(170.24 470.79) scale(1.3700 1)" font-size="3.625" text-anchor="middle">40</text>
<text transform="translate(206.2 470.79) scale(1.3700 1)" font-size="3.625" text-anchor="middle">50</text>
<path d="M16.9 462.23h-1.74M16.9 453.7h-1.74M16.9 445.17h-1.74M16.9 436.64h-1.74M16.9 428.11h-1.74M16.9 419.58h-1.74M16.9 411.05h-1.74" stroke="#000" stroke-width="0.360" fill="none"/>
<text transform="translate(13.82 463.9) scale(1.3000 1)" font-size="3.625" text-anchor="end">−0.2</text>
<text transform="translate(13.82 455.37) scale(1.3000 1)" font-size="3.625" text-anchor="end">0.0</text>
<text transform="translate(13.82 446.84) scale(1.3000 1)" font-size="3.625" text-anchor="end">0.2</text>
<text transform="translate(13.82 438.31) scale(1.3000 1)" font-size="3.625" text-anchor="end">0.4</text>
<text transform="translate(13.82 429.78) scale(1.3000 1)" font-size="3.625" text-anchor="end">0.6</text>
<text transform="translate(13.82 421.25) scale(1.3000 1)" font-size="3.625" text-anchor="end">0.8</text>
<text transform="translate(13.82 412.72) scale(1.3000 1)" font-size="3.625" text-anchor="end">1.0</text>
<text transform="translate(117.05 407.02) scale(1.3500 1)" font-size="4.350" text-anchor="middle">Autocorrelation</text>
</g>
<g>
<polygon fill="#1f77b4" fill-opacity="0.25" points="267.7,456.88 273.09,456.88 276.69,456.88 280.28,456.88 283.88,456.88 287.48,456.88 291.07,456.88 294.67,456.88 298.26,456.88 301.86,456.88 305.46,456.88 309.05,456.88 312.65,456.88 316.24,456.88 319.84,456.88 323.44,456.88 327.03,456.88 330.63,456.88 334.22,456.88 337.82,456.88 341.42,456.88 345.01,456.88 348.61,456.88 352.2,456.88 355.8,456.88 359.4,456.88 362.99,456.88 366.59,456.88 370.18,456.88 373.78,456.88 377.38,456.88 380.97,456.88 384.57,456.88 388.16,456.88 391.76,456.88 395.36,456.88 398.95,456.88 402.55,456.88 406.14,456.88 409.74,456.88 413.34,456.88 416.93,456.88 420.53,456.88 424.12,456.88 427.72,456.88 431.32,456.88 434.91,456.88 438.51,456.88 442.1,456.88 447.5,456.88 447.5,462.32 442.1,462.32 438.51,462.32 434.91,462.32 431.32,462.32 427.72,462.32 424.12,462.32 420.53,462.32 416.93,462.32 413.34,462.32 409.74,462.32 406.14,462.32 402.55,462.32 398.95,462.32 395.36,462.32 391.76,462.32 388.16,462.32 384.57,462.32 380.97,462.32 377.38,462.32 373.78,462.32 370.18,462.32 366.59,462.32 362.99,462.32 359.4,462.32 355.8,462.32 352.2,462.32 348.61,462.32 345.01,462.32 341.42,462.32 337.82,462.32 334.22,462.32 330.63,462.32 327.03,462.32 323.44,462.32 319.84,462.32 316.24,462.32 312.65,462.32 309.05,462.32 305.46,462.32 301.86,462.32 298.26,462.32 294.67,462.32 291.07,462.32 287.48,462.32 283.88,462.32 280.28,462.32 276.69,462.32 273.09,462.32 267.7,462.32"/>
<path d="M265.9 459.6V411.1M269.5 459.6V422.16M273.09 459.6V451.6M276.69 459.6V453.78M280.28 459.6V455.82M283.88 459.6V455.82M287.48 459.6V455.57M291.07 459.6V458.63M294.67 459.6V460.33M298.26 459.6V459.36M301.86 459.6V458.15M305.46 459.6V458.39M309.05 459.6V458.15M312.65 459.6V456.79M316.24 459.6V456.3M319.84 459.6V457.95M323.44 459.6V459.84M327.03 459.6V461.54M330.63 459.6V459.6M334.22 459.6V460.57M337.82 459.6V460.33M341.42 459.6V459.12M345.01 459.6V460.57M348.61 459.6V459.36M352.2 459.6V459.12M355.8 459.6V459.12M359.4 459.6V459.6M362.99 459.6V459.6M366.59 459.6V459.12M370.18 459.6V460.09M373.78 459.6V460.33M377.38 459.6V459.84M380.97 459.6V458.87M384.57 459.6V459.36M388.16 459.6V458.87M391.76 459.6V459.84M395.36 459.6V459.84M398.95 459.6V459.84M402.55 459.6V460.33M406.14 459.6V460.09M409.74 459.6V460.33M413.34 459.6V459.36M416.93 459.6V458.39M420.53 459.6V459.6M424.12 459.6V460.09M427.72 459.6V460.57M431.32 459.6V460.09M434.91 459.6V459.84M438.51 459.6V458.87M442.1 459.6V459.12M445.7 459.6V460.33" stroke="#1f77b4" stroke-opacity="0.72" stroke-width="1.250" fill="none"/>
<line x1="256.9" x2="456.7" y1="459.6" y2="459.6" stroke="#1f77b4" stroke-width="0.544"/>
<ellipse cx="265.9" cy="411.1" rx="1.50" ry="1.05" fill="#1a6ca8"/>
<ellipse cx="269.5" cy="422.16" rx="1.50" ry="1.05" fill="#1a6ca8"/>
<ellipse cx="273.09" cy="451.6" rx="1.50" ry="1.05" fill="#1a6ca8"/>
<ellipse cx="276.69" cy="453.78" rx="1.50" ry="1.05" fill="#1a6ca8"/>
<ellipse cx="280.28" cy="455.82" rx="1.50" ry="1.05" fill="#1a6ca8"/>
<ellipse cx="283.88" cy="455.82" rx="1.50" ry="1.05" fill="#1a6ca8"/>
<ellipse cx="287.48" cy="455.57" rx="1.50" ry="1.05" fill="#1a6ca8"/>
<ellipse cx="291.07" cy="458.63" rx="1.50" ry="1.05" fill="#1a6ca8"/>
<ellipse cx="294.67" cy="460.33" rx="1.50" ry="1.05" fill="#1a6ca8"/>
<ellipse cx="298.26" cy="459.36" rx="1.50" ry="1.05" fill="#1a6ca8"/>
<ellipse cx="301.86" cy="458.15" rx="1.50" ry="1.05" fill="#1a6ca8"/>
<ellipse cx="305.46" cy="458.39" rx="1.50" ry="1.05" fill="#1a6ca8"/>
<ellipse cx="309.05" cy="458.15" rx="1.50" ry="1.05" fill="#1a6ca8"/>
<ellipse cx="312.65" cy="456.79" rx="1.50" ry="1.05" fill="#1a6ca8"/>
<ellipse cx="316.24" cy="456.3" rx="1.50" ry="1.05" fill="#1a6ca8"/>
<ellipse cx="319.84" cy="457.95" rx="1.50" ry="1.05" fill="#1a6ca8"/>
<ellipse cx="323.44" cy="459.84" rx="1.50" ry="1.05" fill="#1a6ca8"/>
<ellipse cx="327.03" cy="461.54" rx="1.50" ry="1.05" fill="#1a6ca8"/>
<ellipse cx="330.63" cy="459.6" rx="1.50" ry="1.05" fill="#1a6ca8"/>
<ellipse cx="334.22" cy="460.57" rx="1.50" ry="1.05" fill="#1a6ca8"/>
<ellipse cx="337.82" cy="460.33" rx="1.50" ry="1.05" fill="#1a6ca8"/>
<ellipse cx="341.42" cy="459.12" rx="1.50" ry="1.05" fill="#1a6ca8"/>
<ellipse cx="345.01" cy="460.57" rx="1.50" ry="1.05" fill="#1a6ca8"/>
<ellipse cx="348.61" cy="459.36" rx="1.50" ry="1.05" fill="#1a6ca8"/>
<ellipse cx="352.2" cy="459.12" rx="1.50" ry="1.05" fill="#1a6ca8"/>
<ellipse cx="355.8" cy="459.12" rx="1.50" ry="1.05" fill="#1a6ca8"/>
<ellipse cx="359.4" cy="459.6" rx="1.50" ry="1.05" fill="#1a6ca8"/>
<ellipse cx="362.99" cy="459.6" rx="1.50" ry="1.05" fill="#1a6ca8"/>
<ellipse cx="366.59" cy="459.12" rx="1.50" ry="1.05" fill="#1a6ca8"/>
<ellipse cx="370.18" cy="460.09" rx="1.50" ry="1.05" fill="#1a6ca8"/>
<ellipse cx="373.78" cy="460.33" rx="1.50" ry="1.05" fill="#1a6ca8"/>
<ellipse cx="377.38" cy="459.84" rx="1.50" ry="1.05" fill="#1a6ca8"/>
<ellipse cx="380.97" cy="458.87" rx="1.50" ry="1.05" fill="#1a6ca8"/>
<ellipse cx="384.57" cy="459.36" rx="1.50" ry="1.05" fill="#1a6ca8"/>
<ellipse cx="388.16" cy="458.87" rx="1.50" ry="1.05" fill="#1a6ca8"/>
<ellipse cx="391.76" cy="459.84" rx="1.50" ry="1.05" fill="#1a6ca8"/>
<ellipse cx="395.36" cy="459.84" rx="1.50" ry="1.05" fill="#1a6ca8"/>
<ellipse cx="398.95" cy="459.84" rx="1.50" ry="1.05" fill="#1a6ca8"/>
<ellipse cx="402.55" cy="460.33" rx="1.50" ry="1.05" fill="#1a6ca8"/>
<ellipse cx="406.14" cy="460.09" rx="1.50" ry="1.05" fill="#1a6ca8"/>
<ellipse cx="409.74" cy="460.33" rx="1.50" ry="1.05" fill="#1a6ca8"/>
<ellipse cx="413.34" cy="459.36" rx="1.50" ry="1.05" fill="#1a6ca8"/>
<ellipse cx="416.93" cy="458.39" rx="1.50" ry="1.05" fill="#1a6ca8"/>
<ellipse cx="420.53" cy="459.6" rx="1.50" ry="1.05" fill="#1a6ca8"/>
<ellipse cx="424.12" cy="460.09" rx="1.50" ry="1.05" fill="#1a6ca8"/>
<ellipse cx="427.72" cy="460.57" rx="1.50" ry="1.05" fill="#1a6ca8"/>
<ellipse cx="431.32" cy="460.09" rx="1.50" ry="1.05" fill="#1a6ca8"/>
<ellipse cx="434.91" cy="459.84" rx="1.50" ry="1.05" fill="#1a6ca8"/>
<ellipse cx="438.51" cy="458.87" rx="1.50" ry="1.05" fill="#1a6ca8"/>
<ellipse cx="442.1" cy="459.12" rx="1.50" ry="1.05" fill="#1a6ca8"/>
<ellipse cx="445.7" cy="460.33" rx="1.50" ry="1.05" fill="#1a6ca8"/>
<path d="M256.9 408.7V465M456.7 408.7V465" stroke="#000" stroke-width="0.400" fill="none"/>
<path d="M256.9 408.7H456.7M256.9 465H456.7" stroke="#000" stroke-width="0.360" fill="none"/>
<path d="M265.9 465v1.27M301.86 465v1.27M337.82 465v1.27M373.78 465v1.27M409.74 465v1.27M445.7 465v1.27" stroke="#000" stroke-width="0.400" fill="none"/>
<text transform="translate(266.1 470.79) scale(1.3700 1)" font-size="3.625" text-anchor="middle">0</text>
<text transform="translate(302.06 470.79) scale(1.3700 1)" font-size="3.625" text-anchor="middle">10</text>
<text transform="translate(338.02 470.79) scale(1.3700 1)" font-size="3.625" text-anchor="middle">20</text>
<text transform="translate(373.98 470.79) scale(1.3700 1)" font-size="3.625" text-anchor="middle">30</text>
<text transform="translate(409.94 470.79) scale(1.3700 1)" font-size="3.625" text-anchor="middle">40</text>
<text transform="translate(445.9 470.79) scale(1.3700 1)" font-size="3.625" text-anchor="middle">50</text>
<path d="M256.9 459.6h-1.74M256.9 449.9h-1.74M256.9 440.2h-1.74M256.9 430.5h-1.74M256.9 420.8h-1.74M256.9 411.1h-1.74" stroke="#000" stroke-width="0.360" fill="none"/>
<text transform="translate(253.82 461.27) scale(1.3000 1)" font-size="3.625" text-anchor="end">0.0</text>
<text transform="translate(253.82 451.57) scale(1.3000 1)" font-size="3.625" text-anchor="end">0.2</text>
<text transform="translate(253.82 441.87) scale(1.3000 1)" font-size="3.625" text-anchor="end">0.4</text>
<text transform="translate(253.82 432.17) scale(1.3000 1)" font-size="3.625" text-anchor="end">0.6</text>
<text transform="translate(253.82 422.47) scale(1.3000 1)" font-size="3.625" text-anchor="end">0.8</text>
<text transform="translate(253.82 412.77) scale(1.3000 1)" font-size="3.625" text-anchor="end">1.0</text>
<text transform="translate(356.8 407.02) scale(1.3500 1)" font-size="4.350" text-anchor="middle">Partial Autocorrelation</text>
</g>
<text transform="translate(239.4 401.8) scale(1.3716 1)" font-size="6.150" text-anchor="middle" font-weight="bold">RUSSIAN</text>
<g>
<polygon fill="#1f77b4" fill-opacity="0.25" points="35.21,519.81 40.49,518.46 44.01,517.58 47.53,516.87 51.06,516.26 54.58,515.71 58.1,515.19 61.62,514.7 65.14,514.26 68.66,513.86 72.18,513.48 75.7,513.12 79.22,512.77 82.74,512.43 86.27,512.09 89.79,511.78 93.31,511.49 96.83,511.21 100.35,510.94 103.87,510.67 107.39,510.41 110.91,510.15 114.43,509.91 117.95,509.67 121.48,509.44 125,509.22 128.52,509 132.04,508.79 135.56,508.57 139.08,508.37 142.6,508.17 146.12,507.97 149.64,507.78 153.16,507.59 156.69,507.4 160.21,507.22 163.73,507.04 167.25,506.86 170.77,506.7 174.29,506.53 177.81,506.36 181.33,506.2 184.85,506.04 188.37,505.88 191.9,505.72 195.42,505.58 198.94,505.43 202.46,505.29 205.98,505.14 211.26,505 211.26,538.6 205.98,538.46 202.46,538.31 198.94,538.17 195.42,538.02 191.9,537.88 188.37,537.72 184.85,537.56 181.33,537.4 177.81,537.24 174.29,537.07 170.77,536.9 167.25,536.74 163.73,536.56 160.21,536.38 156.69,536.2 153.16,536.01 149.64,535.82 146.12,535.63 142.6,535.43 139.08,535.23 135.56,535.03 132.04,534.81 128.52,534.6 125,534.38 121.48,534.16 117.95,533.93 114.43,533.69 110.91,533.45 107.39,533.19 103.87,532.93 100.35,532.66 96.83,532.39 93.31,532.11 89.79,531.82 86.27,531.51 82.74,531.17 79.22,530.83 75.7,530.48 72.18,530.12 68.66,529.74 65.14,529.34 61.62,528.9 58.1,528.41 54.58,527.89 51.06,527.34 47.53,526.73 44.01,526.02 40.49,525.14 35.21,523.79"/>
<path d="M33.45 521.8V488.2M36.97 521.8V489.88M40.49 521.8V491.02M44.01 521.8V491.49M47.53 521.8V491.73M51.06 521.8V491.49M54.58 521.8V491.26M58.1 521.8V491.02M61.62 521.8V491.49M65.14 521.8V491.96M68.66 521.8V492.23M72.18 521.8V492.23M75.7 521.8V492.23M79.22 521.8V491.96M82.74 521.8V491.73M86.27 521.8V492.23M89.79 521.8V492.67M93.31 521.8V492.9M96.83 521.8V493.14M100.35 521.8V493.14M103.87 521.8V492.9M107.39 521.8V492.67M110.91 521.8V493.14M114.43 521.8V493.37M117.95 521.8V493.58M121.48 521.8V493.84M125 521.8V493.84M128.52 521.8V493.58M132.04 521.8V493.58M135.56 521.8V493.84M139.08 521.8V494.08M142.6 521.8V494.32M146.12 521.8V494.32M149.64 521.8V494.32M153.16 521.8V494.08M156.69 521.8V494.08M160.21 521.8V494.32M163.73 521.8V494.79M167.25 521.8V495.02M170.77 521.8V495.02M174.29 521.8V495.02M177.81 521.8V495.02M181.33 521.8V494.79M184.85 521.8V495.02M188.37 521.8V495.26M191.9 521.8V495.73M195.42 521.8V495.93M198.94 521.8V495.93M202.46 521.8V495.73M205.98 521.8V495.73M209.5 521.8V496.2" stroke="#1f77b4" stroke-opacity="0.72" stroke-width="1.250" fill="none"/>
<line x1="24" x2="220.7" y1="521.8" y2="521.8" stroke="#1f77b4" stroke-width="0.544"/>
<ellipse cx="33.45" cy="488.2" rx="1.50" ry="1.05" fill="#1a6ca8"/>
<ellipse cx="36.97" cy="489.88" rx="1.50" ry="1.05" fill="#1a6ca8"/>
<ellipse cx="40.49" cy="491.02" rx="1.50" ry="1.05" fill="#1a6ca8"/>
<ellipse cx="44.01" cy="491.49" rx="1.50" ry="1.05" fill="#1a6ca8"/>
<ellipse cx="47.53" cy="491.73" rx="1.50" ry="1.05" fill="#1a6ca8"/>
<ellipse cx="51.06" cy="491.49" rx="1.50" ry="1.05" fill="#1a6ca8"/>
<ellipse cx="54.58" cy="491.26" rx="1.50" ry="1.05" fill="#1a6ca8"/>
<ellipse cx="58.1" cy="491.02" rx="1.50" ry="1.05" fill="#1a6ca8"/>
<ellipse cx="61.62" cy="491.49" rx="1.50" ry="1.05" fill="#1a6ca8"/>
<ellipse cx="65.14" cy="491.96" rx="1.50" ry="1.05" fill="#1a6ca8"/>
<ellipse cx="68.66" cy="492.23" rx="1.50" ry="1.05" fill="#1a6ca8"/>
<ellipse cx="72.18" cy="492.23" rx="1.50" ry="1.05" fill="#1a6ca8"/>
<ellipse cx="75.7" cy="492.23" rx="1.50" ry="1.05" fill="#1a6ca8"/>
<ellipse cx="79.22" cy="491.96" rx="1.50" ry="1.05" fill="#1a6ca8"/>
<ellipse cx="82.74" cy="491.73" rx="1.50" ry="1.05" fill="#1a6ca8"/>
<ellipse cx="86.27" cy="492.23" rx="1.50" ry="1.05" fill="#1a6ca8"/>
<ellipse cx="89.79" cy="492.67" rx="1.50" ry="1.05" fill="#1a6ca8"/>
<ellipse cx="93.31" cy="492.9" rx="1.50" ry="1.05" fill="#1a6ca8"/>
<ellipse cx="96.83" cy="493.14" rx="1.50" ry="1.05" fill="#1a6ca8"/>
<ellipse cx="100.35" cy="493.14" rx="1.50" ry="1.05" fill="#1a6ca8"/>
<ellipse cx="103.87" cy="492.9" rx="1.50" ry="1.05" fill="#1a6ca8"/>
<ellipse cx="107.39" cy="492.67" rx="1.50" ry="1.05" fill="#1a6ca8"/>
<ellipse cx="110.91" cy="493.14" rx="1.50" ry="1.05" fill="#1a6ca8"/>
<ellipse cx="114.43" cy="493.37" rx="1.50" ry="1.05" fill="#1a6ca8"/>
<ellipse cx="117.95" cy="493.58" rx="1.50" ry="1.05" fill="#1a6ca8"/>
<ellipse cx="121.48" cy="493.84" rx="1.50" ry="1.05" fill="#1a6ca8"/>
<ellipse cx="125" cy="493.84" rx="1.50" ry="1.05" fill="#1a6ca8"/>
<ellipse cx="128.52" cy="493.58" rx="1.50" ry="1.05" fill="#1a6ca8"/>
<ellipse cx="132.04" cy="493.58" rx="1.50" ry="1.05" fill="#1a6ca8"/>
<ellipse cx="135.56" cy="493.84" rx="1.50" ry="1.05" fill="#1a6ca8"/>
<ellipse cx="139.08" cy="494.08" rx="1.50" ry="1.05" fill="#1a6ca8"/>
<ellipse cx="142.6" cy="494.32" rx="1.50" ry="1.05" fill="#1a6ca8"/>
<ellipse cx="146.12" cy="494.32" rx="1.50" ry="1.05" fill="#1a6ca8"/>
<ellipse cx="149.64" cy="494.32" rx="1.50" ry="1.05" fill="#1a6ca8"/>
<ellipse cx="153.16" cy="494.08" rx="1.50" ry="1.05" fill="#1a6ca8"/>
<ellipse cx="156.69" cy="494.08" rx="1.50" ry="1.05" fill="#1a6ca8"/>
<ellipse cx="160.21" cy="494.32" rx="1.50" ry="1.05" fill="#1a6ca8"/>
<ellipse cx="163.73" cy="494.79" rx="1.50" ry="1.05" fill="#1a6ca8"/>
<ellipse cx="167.25" cy="495.02" rx="1.50" ry="1.05" fill="#1a6ca8"/>
<ellipse cx="170.77" cy="495.02" rx="1.50" ry="1.05" fill="#1a6ca8"/>
<ellipse cx="174.29" cy="495.02" rx="1.50" ry="1.05" fill="#1a6ca8"/>
<ellipse cx="177.81" cy="495.02" rx="1.50" ry="1.05" fill="#1a6ca8"/>
<ellipse cx="181.33" cy="494.79" rx="1.50" ry="1.05" fill="#1a6ca8"/>
<ellipse cx="184.85" cy="495.02" rx="1.50" ry="1.05" fill="#1a6ca8"/>
<ellipse cx="188.37" cy="495.26" rx="1.50" ry="1.05" fill="#1a6ca8"/>
<ellipse cx="191.9" cy="495.73" rx="1.50" ry="1.05" fill="#1a6ca8"/>
<ellipse cx="195.42" cy="495.93" rx="1.50" ry="1.05" fill="#1a6ca8"/>
<ellipse cx="198.94" cy="495.93" rx="1.50" ry="1.05" fill="#1a6ca8"/>
<ellipse cx="202.46" cy="495.73" rx="1.50" ry="1.05" fill="#1a6ca8"/>
<ellipse cx="205.98" cy="495.73" rx="1.50" ry="1.05" fill="#1a6ca8"/>
<ellipse cx="209.5" cy="496.2" rx="1.50" ry="1.05" fill="#1a6ca8"/>
<path d="M24 485.7V541.3M220.7 485.7V541.3" stroke="#000" stroke-width="0.400" fill="none"/>
<path d="M24 485.7H220.7M24 541.3H220.7" stroke="#000" stroke-width="0.360" fill="none"/>
<path d="M33.45 541.3v1.27M68.66 541.3v1.27M103.87 541.3v1.27M139.08 541.3v1.27M174.29 541.3v1.27M209.5 541.3v1.27" stroke="#000" stroke-width="0.400" fill="none"/>
<text transform="translate(33.65 547.09) scale(1.3700 1)" font-size="3.625" text-anchor="middle">0</text>
<text transform="translate(68.86 547.09) scale(1.3700 1)" font-size="3.625" text-anchor="middle">10</text>
<text transform="translate(104.07 547.09) scale(1.3700 1)" font-size="3.625" text-anchor="middle">20</text>
<text transform="translate(139.28 547.09) scale(1.3700 1)" font-size="3.625" text-anchor="middle">30</text>
<text transform="translate(174.49 547.09) scale(1.3700 1)" font-size="3.625" text-anchor="middle">40</text>
<text transform="translate(209.7 547.09) scale(1.3700 1)" font-size="3.625" text-anchor="middle">50</text>
<path d="M24 538.6h-1.74M24 530.2h-1.74M24 521.8h-1.74M24 513.4h-1.74M24 505h-1.74M24 496.6h-1.74M24 488.2h-1.74" stroke="#000" stroke-width="0.360" fill="none"/>
<text transform="translate(20.92 540.27) scale(1.3000 1)" font-size="3.625" text-anchor="end">−0.50</text>
<text transform="translate(20.92 531.87) scale(1.3000 1)" font-size="3.625" text-anchor="end">−0.25</text>
<text transform="translate(20.92 523.47) scale(1.3000 1)" font-size="3.625" text-anchor="end">0.00</text>
<text transform="translate(20.92 515.07) scale(1.3000 1)" font-size="3.625" text-anchor="end">0.25</text>
<text transform="translate(20.92 506.67) scale(1.3000 1)" font-size="3.625" text-anchor="end">0.50</text>
<text transform="translate(20.92 498.27) scale(1.3000 1)" font-size="3.625" text-anchor="end">0.75</text>
<text transform="translate(20.92 489.87) scale(1.3000 1)" font-size="3.625" text-anchor="end">1.00</text>
<text transform="translate(122.35 484.02) scale(1.3500 1)" font-size="4.350" text-anchor="middle">Autocorrelation</text>
</g>
<g>
<polygon fill="#1f77b4" fill-opacity="0.25" points="269.76,528.78 275.06,528.78 278.59,528.78 282.12,528.78 285.65,528.78 289.18,528.78 292.71,528.78 296.24,528.78 299.77,528.78 303.3,528.78 306.83,528.78 310.36,528.78 313.89,528.78 317.42,528.78 320.95,528.78 324.48,528.78 328.01,528.78 331.54,528.78 335.07,528.78 338.6,528.78 342.13,528.78 345.66,528.78 349.19,528.78 352.72,528.78 356.25,528.78 359.78,528.78 363.31,528.78 366.84,528.78 370.37,528.78 373.9,528.78 377.43,528.78 380.96,528.78 384.49,528.78 388.02,528.78 391.55,528.78 395.08,528.78 398.61,528.78 402.14,528.78 405.67,528.78 409.2,528.78 412.73,528.78 416.26,528.78 419.79,528.78 423.32,528.78 426.85,528.78 430.38,528.78 433.91,528.78 437.44,528.78 440.97,528.78 446.26,528.78 446.26,533.62 440.97,533.62 437.44,533.62 433.91,533.62 430.38,533.62 426.85,533.62 423.32,533.62 419.79,533.62 416.26,533.62 412.73,533.62 409.2,533.62 405.67,533.62 402.14,533.62 398.61,533.62 395.08,533.62 391.55,533.62 388.02,533.62 384.49,533.62 380.96,533.62 377.43,533.62 373.9,533.62 370.37,533.62 366.84,533.62 363.31,533.62 359.78,533.62 356.25,533.62 352.72,533.62 349.19,533.62 345.66,533.62 342.13,533.62 338.6,533.62 335.07,533.62 331.54,533.62 328.01,533.62 324.48,533.62 320.95,533.62 317.42,533.62 313.89,533.62 310.36,533.62 306.83,533.62 303.3,533.62 299.77,533.62 296.24,533.62 292.71,533.62 289.18,533.62 285.65,533.62 282.12,533.62 278.59,533.62 275.06,533.62 269.76,533.62"/>
<path d="M268 531.2V488M271.53 531.2V490.16M275.06 531.2V523.16M278.59 531.2V522M282.12 531.2V524.81M285.65 531.2V523.86M289.18 531.2V522M292.71 531.2V523.86M296.24 531.2V531.89M299.77 531.2V529.77M303.3 531.2V529.77M306.83 531.2V528.18M310.36 531.2V528.82M313.89 531.2V526.88M317.42 531.2V525.28M320.95 531.2V531.89M324.48 531.2V533.79M328.01 531.2V530.51M331.54 531.2V532.37M335.07 531.2V530.98M338.6 531.2V528.35M342.13 531.2V529.56M345.66 531.2V534.74M349.19 531.2V534.05M352.72 531.2V530.51M356.25 531.2V532.28M359.78 531.2V531.42M363.31 531.2V529.56M366.84 531.2V529.77M370.37 531.2V532.63M373.9 531.2V531.89M377.43 531.2V531.68M380.96 531.2V530.25M384.49 531.2V530.25M388.02 531.2V530.72M391.55 531.2V529.04M395.08 531.2V532.37M398.61 531.2V533.36M402.14 531.2V529.77M405.67 531.2V530.72M409.2 531.2V531.42M412.73 531.2V529.3M416.26 531.2V528.82M419.79 531.2V532.63M423.32 531.2V531.89M426.85 531.2V530.03M430.38 531.2V534.53M433.91 531.2V529.56M437.44 531.2V528.18M440.97 531.2V531.89M444.5 531.2V538.54" stroke="#1f77b4" stroke-opacity="0.72" stroke-width="1.250" fill="none"/>
<line x1="259.1" x2="456" y1="531.2" y2="531.2" stroke="#1f77b4" stroke-width="0.544"/>
<ellipse cx="268" cy="488" rx="1.50" ry="1.05" fill="#1a6ca8"/>
<ellipse cx="271.53" cy="490.16" rx="1.50" ry="1.05" fill="#1a6ca8"/>
<ellipse cx="275.06" cy="523.16" rx="1.50" ry="1.05" fill="#1a6ca8"/>
<ellipse cx="278.59" cy="522" rx="1.50" ry="1.05" fill="#1a6ca8"/>
<ellipse cx="282.12" cy="524.81" rx="1.50" ry="1.05" fill="#1a6ca8"/>
<ellipse cx="285.65" cy="523.86" rx="1.50" ry="1.05" fill="#1a6ca8"/>
<ellipse cx="289.18" cy="522" rx="1.50" ry="1.05" fill="#1a6ca8"/>
<ellipse cx="292.71" cy="523.86" rx="1.50" ry="1.05" fill="#1a6ca8"/>
<ellipse cx="296.24" cy="531.89" rx="1.50" ry="1.05" fill="#1a6ca8"/>
<ellipse cx="299.77" cy="529.77" rx="1.50" ry="1.05" fill="#1a6ca8"/>
<ellipse cx="303.3" cy="529.77" rx="1.50" ry="1.05" fill="#1a6ca8"/>
<ellipse cx="306.83" cy="528.18" rx="1.50" ry="1.05" fill="#1a6ca8"/>
<ellipse cx="310.36" cy="528.82" rx="1.50" ry="1.05" fill="#1a6ca8"/>
<ellipse cx="313.89" cy="526.88" rx="1.50" ry="1.05" fill="#1a6ca8"/>
<ellipse cx="317.42" cy="525.28" rx="1.50" ry="1.05" fill="#1a6ca8"/>
<ellipse cx="320.95" cy="531.89" rx="1.50" ry="1.05" fill="#1a6ca8"/>
<ellipse cx="324.48" cy="533.79" rx="1.50" ry="1.05" fill="#1a6ca8"/>
<ellipse cx="328.01" cy="530.51" rx="1.50" ry="1.05" fill="#1a6ca8"/>
<ellipse cx="331.54" cy="532.37" rx="1.50" ry="1.05" fill="#1a6ca8"/>
<ellipse cx="335.07" cy="530.98" rx="1.50" ry="1.05" fill="#1a6ca8"/>
<ellipse cx="338.6" cy="528.35" rx="1.50" ry="1.05" fill="#1a6ca8"/>
<ellipse cx="342.13" cy="529.56" rx="1.50" ry="1.05" fill="#1a6ca8"/>
<ellipse cx="345.66" cy="534.74" rx="1.50" ry="1.05" fill="#1a6ca8"/>
<ellipse cx="349.19" cy="534.05" rx="1.50" ry="1.05" fill="#1a6ca8"/>
<ellipse cx="352.72" cy="530.51" rx="1.50" ry="1.05" fill="#1a6ca8"/>
<ellipse cx="356.25" cy="532.28" rx="1.50" ry="1.05" fill="#1a6ca8"/>
<ellipse cx="359.78" cy="531.42" rx="1.50" ry="1.05" fill="#1a6ca8"/>
<ellipse cx="363.31" cy="529.56" rx="1.50" ry="1.05" fill="#1a6ca8"/>
<ellipse cx="366.84" cy="529.77" rx="1.50" ry="1.05" fill="#1a6ca8"/>
<ellipse cx="370.37" cy="532.63" rx="1.50" ry="1.05" fill="#1a6ca8"/>
<ellipse cx="373.9" cy="531.89" rx="1.50" ry="1.05" fill="#1a6ca8"/>
<ellipse cx="377.43" cy="531.68" rx="1.50" ry="1.05" fill="#1a6ca8"/>
<ellipse cx="380.96" cy="530.25" rx="1.50" ry="1.05" fill="#1a6ca8"/>
<ellipse cx="384.49" cy="530.25" rx="1.50" ry="1.05" fill="#1a6ca8"/>
<ellipse cx="388.02" cy="530.72" rx="1.50" ry="1.05" fill="#1a6ca8"/>
<ellipse cx="391.55" cy="529.04" rx="1.50" ry="1.05" fill="#1a6ca8"/>
<ellipse cx="395.08" cy="532.37" rx="1.50" ry="1.05" fill="#1a6ca8"/>
<ellipse cx="398.61" cy="533.36" rx="1.50" ry="1.05" fill="#1a6ca8"/>
<ellipse cx="402.14" cy="529.77" rx="1.50" ry="1.05" fill="#1a6ca8"/>
<ellipse cx="405.67" cy="530.72" rx="1.50" ry="1.05" fill="#1a6ca8"/>
<ellipse cx="409.2" cy="531.42" rx="1.50" ry="1.05" fill="#1a6ca8"/>
<ellipse cx="412.73" cy="529.3" rx="1.50" ry="1.05" fill="#1a6ca8"/>
<ellipse cx="416.26" cy="528.82" rx="1.50" ry="1.05" fill="#1a6ca8"/>
<ellipse cx="419.79" cy="532.63" rx="1.50" ry="1.05" fill="#1a6ca8"/>
<ellipse cx="423.32" cy="531.89" rx="1.50" ry="1.05" fill="#1a6ca8"/>
<ellipse cx="426.85" cy="530.03" rx="1.50" ry="1.05" fill="#1a6ca8"/>
<ellipse cx="430.38" cy="534.53" rx="1.50" ry="1.05" fill="#1a6ca8"/>
<ellipse cx="433.91" cy="529.56" rx="1.50" ry="1.05" fill="#1a6ca8"/>
<ellipse cx="437.44" cy="528.18" rx="1.50" ry="1.05" fill="#1a6ca8"/>
<ellipse cx="440.97" cy="531.89" rx="1.50" ry="1.05" fill="#1a6ca8"/>
<ellipse cx="444.5" cy="538.54" rx="1.50" ry="1.05" fill="#1a6ca8"/>
<path d="M259.1 485.7V541.3M456 485.7V541.3" stroke="#000" stroke-width="0.400" fill="none"/>
<path d="M259.1 485.7H456M259.1 541.3H456" stroke="#000" stroke-width="0.360" fill="none"/>
<path d="M268 541.3v1.27M303.3 541.3v1.27M338.6 541.3v1.27M373.9 541.3v1.27M409.2 541.3v1.27M444.5 541.3v1.27" stroke="#000" stroke-width="0.400" fill="none"/>
<text transform="translate(268.2 547.09) scale(1.3700 1)" font-size="3.625" text-anchor="middle">0</text>
<text transform="translate(303.5 547.09) scale(1.3700 1)" font-size="3.625" text-anchor="middle">10</text>
<text transform="translate(338.8 547.09) scale(1.3700 1)" font-size="3.625" text-anchor="middle">20</text>
<text transform="translate(374.1 547.09) scale(1.3700 1)" font-size="3.625" text-anchor="middle">30</text>
<text transform="translate(409.4 547.09) scale(1.3700 1)" font-size="3.625" text-anchor="middle">40</text>
<text transform="translate(444.7 547.09) scale(1.3700 1)" font-size="3.625" text-anchor="middle">50</text>
<path d="M259.1 539.84h-1.74M259.1 531.2h-1.74M259.1 522.56h-1.74M259.1 513.92h-1.74M259.1 505.28h-1.74M259.1 496.64h-1.74M259.1 488h-1.74" stroke="#000" stroke-width="0.360" fill="none"/>
<text transform="translate(256.02 541.51) scale(1.3000 1)" font-size="3.625" text-anchor="end">−0.2</text>
<text transform="translate(256.02 532.87) scale(1.3000 1)" font-size="3.625" text-anchor="end">0.0</text>
<text transform="translate(256.02 524.23) scale(1.3000 1)" font-size="3.625" text-anchor="end">0.2</text>
<text transform="translate(256.02 515.59) scale(1.3000 1)" font-size="3.625" text-anchor="end">0.4</text>
<text transform="translate(256.02 506.95) scale(1.3000 1)" font-size="3.625" text-anchor="end">0.6</text>
<text transform="translate(256.02 498.31) scale(1.3000 1)" font-size="3.625" text-anchor="end">0.8</text>
<text transform="translate(256.02 489.67) scale(1.3000 1)" font-size="3.625" text-anchor="end">1.0</text>
<text transform="translate(357.55 484.02) scale(1.3500 1)" font-size="4.350" text-anchor="middle">Partial Autocorrelation</text>
</g>
<text transform="translate(235.05 479.1) scale(1.3716 1)" font-size="6.150" text-anchor="middle" font-weight="bold">CHINESE</text>
</g>
</svg>
</body></html>
